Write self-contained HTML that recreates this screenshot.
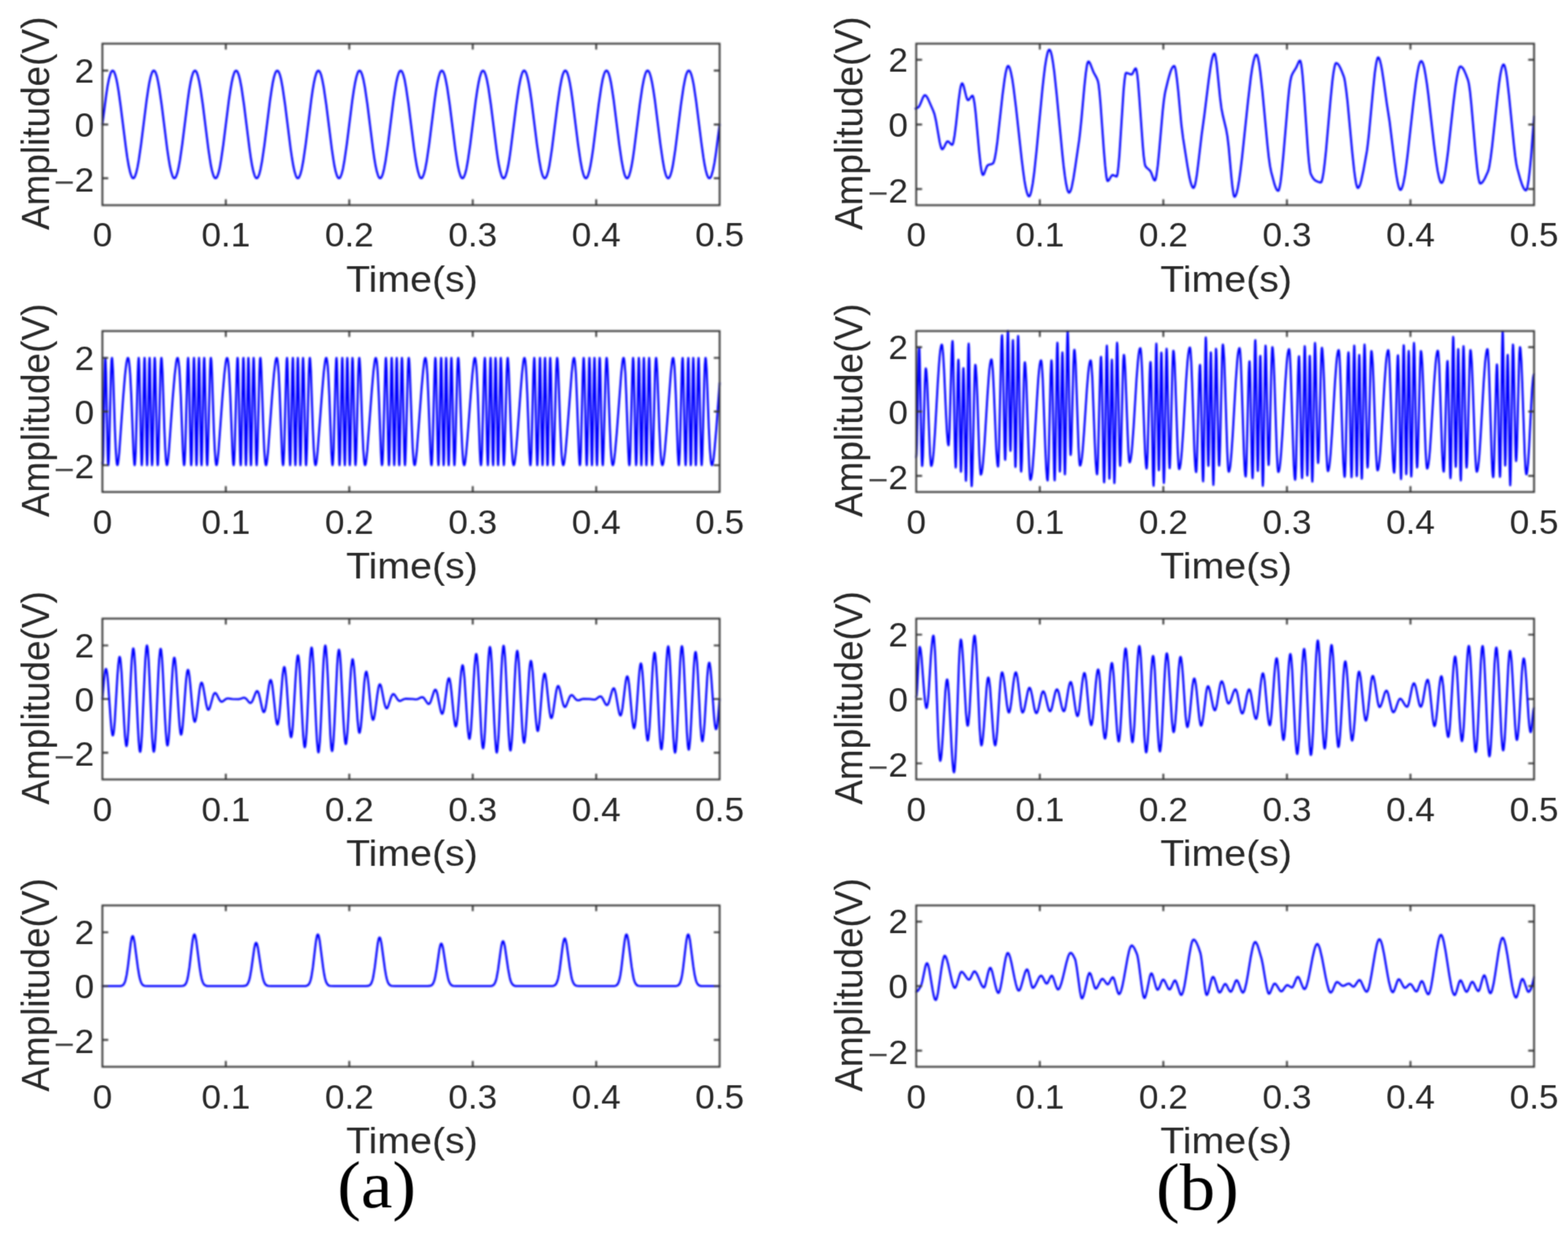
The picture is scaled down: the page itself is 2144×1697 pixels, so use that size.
<!DOCTYPE html>
<html><head><meta charset="utf-8"><title>Signals</title><style>html,body{margin:0;padding:0;background:#fff;overflow:hidden}svg{display:block}</style></head><body>
<svg xmlns="http://www.w3.org/2000/svg" width="2144" height="1697" viewBox="0 0 2144 1697">
<rect width="2144" height="1697" fill="#ffffff"/>
<defs><filter id="bl" x="-1%" y="-1%" width="102%" height="102%" color-interpolation-filters="sRGB"><feGaussianBlur stdDeviation="0.80"/></filter><filter id="bt" x="-5%" y="-5%" width="110%" height="110%" color-interpolation-filters="sRGB"><feConvolveMatrix order="3" kernelMatrix="0.0277 0.1110 0.0277 0.1110 0.4452 0.1110 0.0277 0.1110 0.0277" edgeMode="none"/></filter></defs>
<g filter="url(#bl)">
<path d="M140.0 170.2L145.1 130.7L147.0 118.1L149.0 108.0L151.0 100.9L151.8 98.8L152.7 97.4L153.5 96.7L154.3 96.6L155.2 97.1L156.0 98.3L157.4 101.7L159.1 108.0L160.5 114.9L162.2 125.0L165.0 145.2L172.1 201.5L174.0 215.3L176.0 226.9L178.0 235.8L179.7 240.9L180.8 242.9L181.6 243.6L182.5 243.7L183.3 243.2L184.7 240.9L186.4 235.8L188.1 228.3L189.8 218.8L192.9 197.3L200.5 136.7L202.5 123.2L204.1 113.4L206.1 104.5L207.8 99.4L208.6 97.8L209.5 96.8L210.3 96.5L211.2 96.8L212.0 97.8L212.9 99.4L214.6 104.5L216.2 112.0L217.9 121.5L221.0 143.0L228.6 203.6L230.6 217.1L232.3 226.9L234.0 234.7L235.7 240.2L236.5 242.0L237.3 243.2L238.2 243.7L239.0 243.6L239.9 242.9L240.7 241.5L242.4 236.8L244.1 229.7L246.1 218.8L249.2 197.3L256.8 136.7L258.7 123.2L260.4 113.4L262.1 105.6L263.8 100.1L264.6 98.3L265.5 97.1L266.3 96.6L267.2 96.7L268.0 97.4L268.9 98.8L270.5 103.5L272.2 110.6L274.2 121.5L277.3 143.0L284.9 203.6L286.9 217.1L288.5 226.9L290.2 234.7L291.9 240.2L292.8 242.0L293.6 243.2L294.5 243.7L295.3 243.6L296.1 242.9L297.0 241.5L298.7 236.8L300.4 229.7L302.3 218.8L305.4 197.3L313.0 136.7L315.0 123.2L316.7 113.4L318.4 105.6L320.1 100.1L320.9 98.3L321.7 97.1L322.6 96.6L323.1 96.6L324.0 97.1L324.8 98.3L326.5 102.6L328.2 109.2L330.2 119.7L333.6 143.0L341.2 203.6L343.1 217.1L344.8 226.9L346.5 234.7L348.2 240.2L349.0 242.0L349.9 243.2L350.7 243.7L351.3 243.7L352.1 243.2L353.0 242.0L354.7 237.7L356.3 231.1L358.3 220.6L361.7 197.3L369.3 136.7L371.3 123.2L372.9 113.4L374.6 105.6L376.3 100.1L377.2 98.3L378.0 97.1L378.9 96.6L379.4 96.6L380.3 97.1L381.1 98.3L382.8 102.6L384.5 109.2L386.4 119.7L389.8 143.0L397.4 203.6L399.4 217.1L401.1 226.9L402.8 234.7L404.5 240.2L405.3 242.0L406.1 243.2L407.0 243.7L407.5 243.7L408.4 243.2L409.2 242.0L410.9 237.7L412.6 231.1L414.6 220.6L418.0 197.3L425.6 136.7L427.5 123.2L429.2 113.4L430.9 105.6L432.6 100.1L433.4 98.3L434.3 97.1L435.1 96.6L435.7 96.6L436.5 97.1L437.4 98.3L439.1 102.6L440.7 109.2L442.7 119.7L446.1 143.0L453.7 203.6L455.7 217.1L457.3 226.9L459.0 234.7L460.7 240.2L461.6 242.0L462.4 243.2L463.3 243.7L463.8 243.7L464.7 243.2L465.5 242.0L467.2 237.7L468.9 231.1L470.8 220.6L474.2 197.3L481.8 136.7L483.8 123.2L485.5 113.4L487.2 105.6L488.9 100.1L489.7 98.3L490.5 97.1L491.4 96.6L491.9 96.6L492.8 97.1L493.6 98.3L495.3 102.6L497.0 109.2L499.0 119.7L502.4 143.0L510.0 203.6L511.9 217.1L513.6 226.9L515.3 234.7L517.0 240.2L517.8 242.0L518.7 243.2L519.5 243.7L520.1 243.7L520.9 243.2L521.8 242.0L523.5 237.7L525.1 231.1L527.1 220.6L530.5 197.3L538.1 136.7L540.1 123.2L541.7 113.4L543.4 105.6L545.1 100.1L546.0 98.3L546.8 97.1L547.7 96.6L548.2 96.6L549.1 97.1L549.9 98.3L551.6 102.6L553.3 109.2L555.2 119.7L558.6 143.0L566.2 203.6L568.2 217.1L569.9 226.9L571.6 234.7L573.3 240.2L574.1 242.0L574.9 243.2L575.8 243.7L576.3 243.7L577.2 243.2L578.0 242.0L579.7 237.7L581.4 231.1L583.4 220.6L586.8 197.3L594.4 136.7L596.3 123.2L598.0 113.4L599.7 105.6L601.4 100.1L602.2 98.3L603.1 97.1L603.9 96.6L604.5 96.6L605.3 97.1L606.2 98.3L607.9 102.6L609.5 109.2L611.5 119.7L614.9 143.0L622.5 203.6L624.5 217.1L626.1 226.9L627.8 234.7L629.5 240.2L630.4 242.0L631.2 243.2L632.1 243.7L632.6 243.7L633.5 243.2L634.3 242.0L636.0 237.7L637.7 231.1L639.6 220.6L643.0 197.3L650.6 136.7L652.6 123.2L654.3 113.4L656.0 105.6L657.7 100.1L658.5 98.3L659.3 97.1L660.2 96.6L660.7 96.6L661.6 97.1L662.4 98.3L664.1 102.6L665.8 109.2L667.8 119.7L671.2 143.0L678.8 203.6L680.7 217.1L682.4 226.9L684.1 234.7L685.5 239.4L686.3 241.5L687.2 242.9L688.0 243.6L688.6 243.8L689.2 243.6L690.0 242.9L690.9 241.5L691.7 239.4L693.1 234.7L694.8 226.9L696.5 217.1L698.4 203.6L706.0 143.0L709.4 119.7L711.4 109.2L713.1 102.6L714.2 99.4L715.0 97.8L715.9 96.8L716.7 96.5L717.3 96.7L718.1 97.4L719.0 98.8L719.8 100.9L721.2 105.6L722.9 113.4L724.6 123.2L726.6 136.7L734.2 197.3L737.6 220.6L739.5 231.1L741.2 237.7L742.3 240.9L743.2 242.5L744.0 243.5L744.9 243.8L745.4 243.6L746.3 242.9L747.1 241.5L748.0 239.4L749.4 234.7L751.1 226.9L752.7 217.1L754.7 203.6L762.3 143.0L765.7 119.7L767.7 109.2L769.3 102.6L770.5 99.4L771.3 97.8L772.2 96.8L773.0 96.5L773.6 96.7L774.4 97.4L775.3 98.8L776.1 100.9L777.5 105.6L779.2 113.4L780.9 123.2L782.8 136.7L790.4 197.3L793.8 220.6L795.8 231.1L797.5 237.7L798.6 240.9L799.4 242.5L800.3 243.5L801.1 243.8L801.7 243.6L802.5 242.9L803.4 241.5L804.2 239.4L805.6 234.7L807.3 226.9L809.0 217.1L811.0 203.6L818.6 143.0L822.0 119.7L823.9 109.2L825.6 102.6L826.7 99.4L827.6 97.8L828.4 96.8L829.3 96.5L829.8 96.7L830.7 97.4L831.5 98.8L832.4 100.9L833.8 105.6L835.5 113.4L837.1 123.2L839.1 136.7L846.7 197.3L850.1 220.6L852.1 231.1L853.7 237.7L854.9 240.9L855.7 242.5L856.6 243.5L857.4 243.8L858.0 243.6L858.8 242.9L859.7 241.5L860.5 239.4L861.9 234.7L863.6 226.9L865.3 217.1L867.2 203.6L874.8 143.0L878.2 119.7L880.2 109.2L881.9 102.6L883.0 99.4L883.8 97.8L884.7 96.8L885.5 96.5L886.1 96.7L886.9 97.4L887.8 98.8L888.6 100.9L890.0 105.6L891.7 113.4L893.4 123.2L895.4 136.7L903.0 197.3L906.4 220.6L908.3 231.1L910.0 237.7L911.1 240.9L912.0 242.5L912.8 243.5L913.7 243.8L914.2 243.6L915.1 242.9L915.9 241.5L916.8 239.4L918.2 234.7L919.9 226.9L921.5 217.1L923.5 203.6L931.1 143.0L934.5 119.7L936.5 109.2L938.1 102.6L939.3 99.4L940.1 97.8L941.0 96.8L941.8 96.5L942.6 96.8L943.5 97.8L944.3 99.4L945.2 101.7L946.9 108.0L948.6 116.5L951.9 138.8L959.0 195.1L961.8 215.3L963.5 225.4L964.9 232.3L966.6 238.6L968.0 242.0L968.8 243.2L969.7 243.7L970.5 243.6L971.3 242.9L972.2 241.5L973.0 239.4L975.0 232.3L977.0 222.2L978.9 209.6L984.0 170.2" fill="none" stroke="#0000ff" stroke-width="2.80" stroke-linejoin="round" stroke-linecap="round"/>
<path d="M1251.8 148.5L1253.1 148.2L1254.3 147.5L1256.1 146.3L1256.8 145.4L1258.3 142.4L1261.8 133.8L1263.3 131.1L1264.1 130.4L1264.6 130.2L1265.3 130.3L1266.3 131.0L1267.8 133.1L1269.3 136.0L1276.1 151.5L1277.8 156.3L1279.8 165.1L1284.8 194.0L1286.1 199.5L1287.3 203.0L1287.8 203.8L1288.3 204.1L1288.8 204.0L1289.6 203.4L1290.8 201.4L1293.8 195.2L1294.8 193.8L1295.6 193.3L1296.3 193.4L1297.1 193.8L1300.6 197.4L1301.3 197.9L1302.1 198.0L1302.8 196.9L1303.6 194.6L1305.3 184.9L1307.1 171.0L1310.8 137.1L1312.8 122.6L1313.8 117.6L1314.6 115.2L1315.3 114.1L1315.6 114.0L1316.1 114.3L1316.8 115.6L1317.6 117.7L1321.3 132.5L1322.1 134.8L1322.8 136.4L1323.6 137.0L1324.6 136.6L1325.6 135.5L1328.1 132.0L1328.8 131.3L1329.6 130.9L1330.1 131.1L1330.3 131.5L1331.3 134.7L1332.6 142.1L1334.1 154.9L1338.8 206.8L1340.8 225.5L1341.8 232.4L1342.6 236.2L1343.6 239.0L1343.8 239.2L1344.3 239.2L1345.1 238.5L1345.8 237.1L1348.8 229.0L1350.1 226.4L1350.6 225.9L1351.6 225.4L1356.1 224.3L1357.8 223.5L1358.8 221.6L1360.1 217.2L1361.8 207.8L1363.8 193.2L1370.8 129.9L1373.6 108.5L1375.1 99.5L1376.6 93.3L1377.3 91.4L1377.8 90.6L1378.3 90.2L1379.1 90.4L1379.8 91.3L1380.6 92.9L1382.3 98.9L1384.1 107.9L1385.8 119.4L1389.3 147.7L1397.1 218.6L1399.1 234.7L1400.8 246.9L1402.6 256.9L1404.1 263.2L1405.6 267.2L1406.3 268.2L1407.1 268.5L1407.8 268.0L1408.6 266.7L1409.3 264.6L1410.3 260.6L1412.1 251.0L1414.1 236.3L1417.3 206.2L1425.3 122.1L1427.1 105.9L1428.8 91.8L1430.6 80.5L1432.1 73.4L1432.8 70.8L1433.6 69.1L1434.3 68.1L1434.8 67.9L1435.6 68.4L1436.3 69.7L1437.1 71.8L1438.1 75.8L1439.8 85.6L1441.6 98.6L1444.8 128.6L1452.6 210.5L1454.3 226.7L1456.1 240.8L1457.6 250.6L1459.1 257.9L1459.8 260.5L1460.6 262.3L1461.3 263.3L1461.8 263.5L1462.6 263.1L1463.6 261.5L1464.6 258.8L1465.6 255.0L1467.8 243.7L1470.3 227.7L1475.6 191.4L1476.8 181.4L1478.6 164.0L1482.6 119.4L1484.6 100.5L1486.3 88.9L1487.3 85.2L1488.1 84.1L1488.6 84.2L1489.3 84.7L1490.8 87.2L1495.3 98.9L1499.1 105.7L1500.3 108.4L1501.3 111.3L1502.1 115.2L1503.3 125.2L1504.8 142.0L1509.3 204.9L1511.1 226.4L1512.8 241.6L1513.8 246.3L1514.3 247.3L1514.6 247.5L1515.3 247.2L1516.3 246.2L1519.3 241.1L1520.6 239.6L1521.3 239.3L1522.1 239.4L1525.6 241.1L1526.8 241.4L1527.3 240.7L1528.1 237.6L1529.3 227.3L1530.6 212.2L1536.3 123.8L1537.6 110.0L1538.8 101.6L1539.3 100.1L1539.8 99.7L1541.6 100.0L1545.8 101.6L1547.1 101.8L1547.6 101.7L1548.1 101.3L1548.8 100.2L1551.6 94.7L1552.3 93.8L1552.8 93.6L1553.1 93.7L1553.6 94.5L1554.3 97.6L1555.1 102.6L1556.1 111.7L1557.8 132.9L1562.6 199.4L1563.8 213.1L1565.1 222.8L1565.8 226.2L1566.3 227.3L1568.1 229.5L1571.3 232.2L1572.8 233.8L1574.1 236.2L1576.6 243.1L1577.6 245.4L1578.6 246.7L1579.1 246.8L1579.6 246.3L1580.3 244.4L1581.3 239.6L1583.1 226.4L1584.8 208.9L1589.8 152.0L1591.3 138.1L1592.6 129.2L1593.3 125.4L1596.8 110.8L1598.6 104.2L1600.3 98.5L1601.8 94.6L1603.3 91.8L1604.6 90.5L1605.3 90.2L1605.8 90.4L1606.6 91.8L1607.6 96.0L1609.3 108.3L1611.1 124.9L1615.3 170.1L1617.6 188.4L1623.6 226.6L1626.3 241.9L1627.8 248.5L1629.3 253.4L1630.6 256.0L1631.3 256.8L1631.8 257.0L1632.3 256.8L1632.8 256.1L1634.1 252.5L1635.3 246.5L1636.6 238.5L1638.3 224.9L1643.1 184.1L1646.8 157.2L1652.6 110.4L1655.1 92.5L1656.6 83.9L1658.1 77.6L1658.8 75.4L1659.6 74.0L1660.3 73.3L1660.8 73.5L1661.3 74.4L1662.1 77.3L1663.6 87.2L1668.3 133.9L1670.1 147.9L1672.1 158.2L1676.6 176.9L1678.3 186.5L1680.1 201.7L1683.6 240.7L1685.1 255.3L1686.6 265.5L1687.3 268.3L1687.8 269.0L1688.1 269.1L1688.8 268.7L1689.6 267.5L1691.1 263.4L1692.6 256.8L1694.3 246.7L1696.3 232.3L1698.3 215.6L1706.6 137.2L1710.3 105.8L1712.3 92.4L1714.1 83.4L1715.8 77.4L1716.8 75.4L1717.6 74.8L1718.3 74.9L1718.8 75.5L1719.6 77.3L1720.3 80.1L1721.8 88.1L1723.3 99.0L1726.1 124.4L1733.1 198.9L1734.8 214.6L1736.6 227.2L1738.1 234.8L1742.8 252.3L1744.1 255.9L1745.3 258.7L1746.3 260.2L1747.3 260.9L1748.1 260.8L1748.6 260.1L1749.8 255.7L1751.1 248.2L1752.3 238.2L1754.8 212.5L1761.1 138.7L1762.8 122.0L1764.3 111.1L1765.6 105.1L1766.8 101.8L1768.3 98.9L1772.3 92.6L1775.8 84.5L1776.6 83.3L1777.3 82.8L1777.8 83.0L1778.1 83.4L1779.1 87.3L1780.1 94.3L1781.1 103.9L1783.1 128.8L1788.3 204.7L1789.8 221.7L1791.1 232.1L1791.8 236.1L1792.3 237.8L1794.1 241.5L1795.8 244.2L1797.1 245.7L1798.3 246.7L1801.3 248.3L1803.8 249.2L1806.1 249.5L1806.6 249.1L1807.1 248.2L1808.3 243.9L1809.8 235.2L1811.3 223.3L1813.1 206.3L1819.1 138.3L1821.8 111.0L1823.3 99.4L1824.6 92.2L1825.8 87.7L1826.3 86.7L1826.8 86.2L1828.1 86.5L1829.6 87.7L1831.1 89.8L1832.8 93.1L1834.8 97.7L1837.3 104.2L1838.1 106.8L1839.1 111.9L1840.8 124.0L1842.6 139.6L1849.1 209.4L1851.6 232.9L1853.1 244.1L1854.3 251.1L1855.6 255.5L1856.1 256.5L1856.6 257.0L1857.1 257.0L1857.6 256.6L1858.8 254.7L1860.1 251.4L1861.3 246.9L1864.1 233.9L1869.1 206.2L1870.3 196.9L1871.8 183.3L1877.6 121.3L1879.8 100.0L1881.1 90.7L1882.1 84.8L1883.3 80.0L1883.8 79.0L1884.3 78.5L1884.8 78.6L1885.6 79.4L1886.8 82.4L1888.3 88.5L1889.8 96.6L1891.8 109.7L1896.3 142.0L1900.1 166.5L1906.8 221.3L1909.3 239.3L1910.8 248.1L1912.3 254.7L1913.6 258.2L1914.3 259.4L1914.8 259.7L1915.6 259.5L1916.3 258.6L1917.8 254.8L1919.3 248.6L1921.1 238.9L1922.8 226.8L1924.8 210.9L1932.6 140.6L1936.1 112.5L1938.1 99.7L1939.8 91.1L1940.8 87.5L1941.6 85.6L1942.3 84.2L1943.1 83.6L1943.8 83.6L1944.6 84.4L1945.3 85.8L1946.1 87.9L1947.6 93.7L1949.3 103.1L1951.1 114.7L1953.1 130.2L1960.8 198.0L1964.1 223.1L1965.8 234.0L1967.6 242.5L1969.3 248.1L1970.1 249.4L1970.8 250.1L1971.6 250.1L1972.1 249.6L1972.8 248.3L1973.6 246.3L1975.1 240.4L1976.6 232.2L1978.3 220.3L1980.1 206.5L1987.3 141.1L1990.3 117.2L1992.1 106.0L1993.6 98.5L1995.1 93.4L1995.8 91.8L1996.6 91.0L1997.1 90.9L1997.8 91.1L1999.1 91.9L2000.6 93.8L2002.1 96.5L2004.3 101.5L2007.1 108.9L2007.8 111.5L2008.6 115.2L2010.1 125.8L2011.8 142.3L2017.3 205.6L2019.6 228.5L2020.8 238.6L2021.8 244.7L2022.8 248.9L2023.3 250.2L2023.8 250.8L2024.6 250.8L2025.3 250.6L2026.8 249.4L2028.3 247.4L2030.1 244.4L2034.6 234.5L2035.6 231.1L2036.6 226.4L2038.3 215.5L2040.3 199.9L2047.1 136.6L2049.8 113.5L2051.3 103.3L2052.6 96.5L2053.8 91.5L2055.1 88.7L2055.8 88.2L2056.3 88.4L2056.8 89.1L2057.6 90.9L2059.1 97.4L2060.6 106.9L2063.3 130.4L2070.1 198.7L2071.8 213.5L2073.3 223.7L2074.6 230.0L2078.8 245.3L2081.3 252.9L2083.6 257.8L2084.6 259.2L2085.6 260.1L2086.6 260.3L2087.1 259.8L2087.8 258.1L2088.6 255.3L2090.1 246.6L2091.8 231.9L2093.6 213.1L2097.6 159.4" fill="none" stroke="#0000ff" stroke-width="2.80" stroke-linejoin="round" stroke-linecap="round"/>
<path d="M140.0 632.3L140.3 636.1L140.5 635.3L141.1 622.6L143.1 511.0L143.6 493.7L144.0 489.4L144.4 493.8L145.0 510.4L147.1 617.1L147.6 631.7L147.8 634.7L148.1 636.1L148.7 630.3L149.2 615.9L151.7 510.5L152.4 493.9L152.8 490.5L153.1 489.4L153.4 490.4L153.7 493.5L154.5 507.2L157.1 586.7L158.3 614.7L159.4 631.1L159.9 634.7L160.3 635.8L160.6 636.1L161.1 635.1L161.7 631.8L163.0 619.6L168.3 545.0L170.9 513.4L172.1 502.5L173.1 495.0L174.1 490.8L174.5 489.7L174.9 489.4L175.3 489.7L175.8 490.8L176.5 494.8L177.3 502.8L178.1 513.2L179.6 542.9L182.5 617.8L183.4 631.6L183.8 635.2L184.1 636.1L184.5 634.7L184.8 631.6L185.6 617.2L188.4 509.7L189.1 494.1L189.6 489.4L189.9 490.8L190.1 493.6L190.6 506.9L192.9 613.3L193.4 630.3L193.7 635.2L193.9 636.1L194.3 631.6L194.8 619.2L196.8 509.8L197.2 495.1L197.6 489.4L197.8 490.3L198.0 493.6L198.4 507.4L200.2 613.5L200.7 629.7L201.1 636.1L201.4 633.7L201.8 621.2L203.6 513.2L204.0 496.3L204.5 489.5L204.8 491.6L205.2 503.7L207.1 615.5L207.5 630.7L207.9 636.1L208.4 631.2L208.9 612.1L210.8 505.4L211.2 493.1L211.4 490.1L211.6 489.4L212.1 494.5L212.6 511.6L214.7 617.9L215.2 632.1L215.6 636.1L215.9 635.6L216.2 632.0L216.8 615.4L219.4 507.4L220.1 493.9L220.4 490.5L220.7 489.4L221.0 490.4L221.4 494.7L222.2 509.3L224.7 585.4L225.9 613.5L227.0 630.4L227.7 634.8L228.0 635.8L228.3 636.1L228.8 635.1L229.5 631.8L230.8 618.8L236.2 543.8L238.9 512.4L240.9 495.6L241.8 491.0L242.2 489.9L242.7 489.4L243.1 489.6L243.5 490.7L244.2 494.6L245.1 502.7L245.8 513.2L247.2 541.0L250.1 616.9L251.0 631.2L251.4 635.0L251.7 636.1L251.9 635.9L252.1 634.9L252.5 631.8L253.2 617.5L254.0 590.1L256.1 509.5L256.7 493.9L257.2 489.4L257.5 491.0L257.7 493.9L258.3 507.5L260.5 614.3L261.0 630.8L261.3 635.5L261.5 636.1L262.0 631.0L262.4 618.0L264.3 513.0L264.8 494.3L265.2 489.4L265.5 492.2L266.0 504.5L267.9 615.3L268.3 630.7L268.7 636.1L269.0 633.0L269.4 619.6L271.2 511.3L271.7 495.2L272.1 489.4L272.5 494.6L272.9 510.0L274.7 617.2L275.1 631.5L275.6 636.1L276.0 630.4L276.4 615.4L278.3 508.3L278.7 494.7L279.2 489.4L279.4 490.1L279.6 492.9L280.1 508.4L282.3 618.7L282.8 632.4L283.3 636.1L283.5 635.5L283.8 631.7L284.4 615.0L287.1 507.4L287.7 494.0L288.0 490.6L288.3 489.4L288.6 490.3L289.1 494.5L289.8 508.7L292.4 587.0L293.6 614.3L294.8 630.6L295.4 634.9L295.7 635.8L296.0 636.1L296.6 635.2L297.2 632.0L298.7 618.1L304.3 541.2L306.8 511.4L307.9 501.6L308.8 494.8L309.6 490.9L310.1 489.8L310.5 489.4L310.9 489.8L311.2 490.6L312.0 494.5L312.7 501.4L313.4 511.6L314.9 541.7L317.9 618.3L318.7 632.1L319.1 635.5L319.5 636.1L319.9 634.2L320.2 630.6L320.9 615.0L323.7 509.3L324.3 493.8L324.6 490.1L324.8 489.4L325.2 491.1L325.4 494.1L325.9 508.1L328.1 615.3L328.6 631.4L329.1 636.1L329.3 635.4L329.5 632.6L329.9 620.9L331.9 511.5L332.4 493.6L332.6 490.3L332.9 489.4L333.3 495.3L333.7 510.6L335.6 621.6L336.0 633.8L336.3 636.1L336.8 629.5L337.2 612.9L339.0 504.8L339.4 492.0L339.7 489.4L340.1 495.6L340.6 511.8L342.3 618.8L342.8 632.3L343.1 636.1L343.3 635.3L343.5 632.0L343.9 618.5L345.8 511.5L346.4 494.0L346.8 489.4L347.2 493.5L347.7 509.5L349.9 619.4L350.5 632.7L350.9 636.1L351.1 635.4L351.4 631.4L352.1 614.6L354.6 510.5L355.3 494.1L355.6 490.7L356.0 489.4L356.3 490.2L356.7 494.3L357.4 508.2L360.1 585.6L361.3 615.0L362.5 630.8L363.1 634.9L363.4 635.9L363.8 636.1L364.1 635.7L364.4 634.8L365.0 631.4L366.5 617.5L372.2 540.1L374.7 510.3L376.6 494.6L377.5 490.7L377.9 489.7L378.2 489.4L378.6 489.7L379.0 490.5L379.7 494.3L380.4 501.4L381.2 511.8L382.5 539.9L385.5 617.6L386.3 631.8L386.8 635.4L387.1 636.1L387.5 634.3L387.8 630.8L388.6 615.2L391.3 509.1L391.9 493.6L392.3 490.0L392.5 489.4L393.0 494.4L393.5 508.7L395.7 616.3L396.3 631.9L396.7 636.1L397.1 632.0L397.5 619.8L399.5 510.0L400.0 495.2L400.4 489.4L400.6 490.3L400.8 493.6L401.2 507.5L403.0 613.9L403.4 630.0L403.9 636.1L404.2 633.5L404.6 620.8L406.4 512.7L406.8 496.0L407.2 489.4L407.5 491.7L408.0 504.1L409.8 610.6L410.3 630.8L410.7 636.1L411.1 631.2L411.7 612.2L413.6 505.8L414.0 493.4L414.4 489.4L414.8 494.0L415.4 510.6L417.5 616.4L418.0 631.2L418.2 634.4L418.5 636.1L418.7 635.3L419.0 631.2L419.7 614.2L422.2 510.6L423.0 494.2L423.3 490.7L423.6 489.4L423.9 490.1L424.3 494.0L425.1 507.6L427.8 587.0L429.0 613.7L430.2 631.0L430.9 634.9L431.2 635.9L431.5 636.1L431.8 635.8L432.1 634.9L432.8 631.6L434.3 616.9L440.3 537.6L442.7 509.2L444.5 494.4L445.2 490.9L445.6 489.8L445.9 489.4L446.4 489.6L446.7 490.4L447.4 494.2L448.2 501.4L448.9 512.0L450.3 540.7L453.2 619.0L454.0 631.5L454.4 635.2L454.7 636.1L455.1 634.5L455.4 631.0L456.2 615.5L458.9 508.8L459.6 493.4L459.9 489.9L460.1 489.4L460.6 494.7L461.1 509.3L463.3 613.0L463.8 630.2L464.1 635.3L464.3 636.1L464.7 631.4L465.2 618.7L467.1 513.3L467.6 494.4L468.0 489.4L468.3 492.2L468.7 504.6L470.6 615.6L471.1 630.9L471.5 636.1L471.9 630.3L472.3 614.3L474.1 506.0L474.5 492.6L474.9 489.4L475.3 494.8L475.7 510.4L477.5 617.3L477.9 631.6L478.1 635.1L478.3 636.1L478.8 630.4L479.2 615.5L481.1 508.8L481.5 495.0L481.9 489.5L482.1 490.0L482.5 494.6L483.0 511.7L485.1 617.1L485.6 631.5L485.8 634.6L486.1 636.1L486.7 630.9L487.3 613.8L489.8 510.7L490.6 494.3L490.9 490.8L491.2 489.4L491.5 490.0L491.9 493.8L492.7 507.0L495.4 585.5L496.7 614.3L498.0 631.1L498.6 635.0L498.9 635.9L499.2 636.1L499.5 635.8L499.9 634.9L500.6 631.1L502.2 616.4L508.3 535.0L510.6 508.0L512.3 494.2L513.0 490.7L513.5 489.7L513.8 489.4L514.2 489.8L514.5 490.7L515.3 495.0L516.0 502.7L516.6 512.2L518.0 541.7L520.9 618.3L521.6 631.2L522.0 635.1L522.3 636.1L522.8 634.6L523.1 631.2L523.8 615.7L526.6 508.5L527.2 493.2L527.5 489.9L527.7 489.4L528.1 493.1L528.7 506.3L530.9 614.1L531.4 630.8L531.7 635.5L531.9 636.1L532.4 630.8L532.9 613.0L534.8 507.1L535.2 493.6L535.4 490.3L535.6 489.4L536.0 495.3L536.5 510.7L538.4 621.8L538.8 633.9L539.1 636.0L539.5 629.3L540.0 612.5L541.7 504.4L542.2 491.9L542.5 489.4L542.9 495.8L543.3 512.2L545.1 618.9L545.5 632.4L545.9 636.1L546.1 635.3L546.3 632.0L546.7 618.5L548.6 512.0L549.1 494.3L549.6 489.4L550.0 493.1L550.5 508.5L552.7 617.8L553.2 631.8L553.5 634.7L553.8 636.1L554.3 630.7L554.9 613.4L557.6 507.8L558.3 493.0L558.6 490.2L558.9 489.4L559.3 490.6L559.7 494.9L560.4 508.8L563.1 584.0L564.3 613.0L565.6 630.3L566.2 634.5L566.5 635.6L567.0 636.1L567.3 635.8L567.6 635.0L568.3 631.3L570.0 616.0L576.3 532.5L578.6 506.8L580.1 493.9L580.9 490.5L581.5 489.4L581.9 489.7L582.3 490.6L583.0 495.0L583.7 502.8L584.4 512.6L585.6 540.0L588.5 617.6L589.2 630.8L589.6 635.0L590.0 636.1L590.2 635.8L590.4 634.7L590.7 631.4L591.4 615.9L594.1 511.7L594.7 494.8L595.2 489.4L595.5 490.6L595.8 493.4L596.3 506.9L598.5 615.1L599.0 631.4L599.5 636.1L599.7 635.3L599.9 632.4L600.4 616.2L602.3 510.2L602.7 495.3L603.1 489.4L603.4 490.3L603.6 493.6L604.0 507.6L605.8 614.2L606.2 630.2L606.6 636.1L606.9 633.3L607.4 620.4L609.2 512.2L609.6 495.8L610.0 489.4L610.3 491.9L610.7 504.4L612.5 610.8L613.1 630.8L613.5 636.1L613.9 631.2L614.4 612.3L616.3 506.3L616.8 493.7L617.2 489.4L617.6 493.6L618.1 509.6L620.3 618.5L620.9 632.1L621.3 636.1L621.5 635.7L621.8 632.3L622.5 616.6L625.2 507.9L625.9 493.2L626.2 490.3L626.6 489.4L626.9 490.5L627.3 494.6L628.0 508.2L630.8 585.2L632.1 613.5L633.3 630.4L634.0 634.5L634.3 635.6L634.7 636.1L635.0 635.9L635.3 635.1L636.0 632.2L637.4 620.1L639.2 599.2L643.9 536.7L645.9 512.1L647.8 494.9L648.5 491.0L648.9 489.8L649.2 489.4L649.7 489.7L650.0 490.6L650.6 494.1L651.4 501.6L652.0 511.1L653.4 541.0L656.1 616.9L656.8 630.5L657.3 634.8L657.6 636.1L657.8 635.9L658.0 634.8L658.3 631.6L659.1 616.1L661.7 511.4L662.3 494.6L662.9 489.4L663.2 490.8L663.4 493.7L663.9 507.5L666.1 616.1L666.7 632.0L667.1 636.1L667.5 631.8L667.9 619.2L669.8 513.5L670.3 494.4L670.8 489.4L671.1 492.2L671.5 504.7L673.4 616.0L673.8 631.1L674.3 636.1L674.7 630.1L675.1 613.9L676.9 505.6L677.3 492.4L677.6 489.4L678.1 495.0L678.5 510.7L680.3 617.5L680.7 631.7L680.9 635.1L681.1 636.1L681.5 630.4L682.0 615.6L684.0 505.1L684.4 493.1L684.6 490.2L684.8 489.4L685.2 494.2L685.8 510.6L687.9 615.4L688.4 630.5L688.9 636.1L689.1 635.6L689.4 632.1L690.1 616.3L692.8 508.1L693.6 493.3L693.9 490.3L694.2 489.4L694.5 490.3L694.9 494.3L695.7 507.5L698.5 586.4L699.8 614.0L701.0 630.4L701.7 634.5L702.0 635.6L702.4 636.1L702.7 635.9L703.1 635.2L703.7 632.5L705.3 619.8L707.3 596.5L711.9 534.0L713.8 510.7L715.5 495.2L716.2 491.2L716.7 489.8L717.0 489.4L717.4 489.7L717.7 490.5L718.4 494.1L719.1 501.8L719.7 511.5L721.0 539.4L723.8 618.6L724.6 631.6L725.0 635.4L725.3 636.1L725.6 634.9L725.9 631.7L726.7 616.3L729.3 511.1L730.0 494.4L730.5 489.4L730.8 491.0L731.0 494.0L731.5 508.2L733.6 612.9L734.2 630.3L734.5 635.3L734.7 636.1L735.1 631.2L735.7 613.6L737.6 507.3L738.0 493.6L738.2 490.3L738.4 489.4L738.7 492.9L739.1 506.2L740.9 612.7L741.4 629.3L741.8 636.0L742.1 633.9L742.5 621.6L744.4 508.6L744.8 493.8L745.0 490.3L745.3 489.4L745.7 496.0L746.1 512.5L747.9 619.1L748.3 632.4L748.6 636.1L748.8 635.3L749.1 632.0L749.5 618.7L751.4 512.6L751.9 494.7L752.3 489.4L752.5 490.0L752.8 494.8L753.4 511.7L755.5 616.1L756.0 630.9L756.5 636.1L756.8 635.5L757.1 631.9L757.7 616.0L760.4 508.3L761.2 493.4L761.5 490.4L761.8 489.4L762.1 490.2L762.6 494.0L763.3 506.9L766.1 584.8L767.4 612.5L768.0 622.4L768.8 630.4L769.4 634.4L769.7 635.5L770.2 636.1L770.5 635.9L770.8 635.3L771.5 632.1L773.2 618.4L775.3 593.8L781.7 510.4L783.3 494.8L784.1 490.9L784.7 489.4L785.1 489.6L785.4 490.5L786.1 494.2L786.8 502.1L787.5 512.0L788.7 540.6L791.5 618.0L792.2 631.3L792.6 635.3L792.9 636.1L793.3 635.0L793.6 631.8L794.3 616.4L796.9 510.7L797.6 494.1L797.9 490.2L798.1 489.4L798.4 491.1L798.6 494.3L799.2 508.9L801.3 614.0L801.8 630.9L802.2 636.1L802.4 635.5L802.6 632.7L803.2 616.8L805.1 510.3L805.5 495.3L805.9 489.4L806.1 490.3L806.3 493.7L806.8 507.7L808.6 614.6L809.0 630.4L809.4 636.1L809.7 633.2L810.1 620.0L811.9 511.8L812.4 495.5L812.8 489.4L813.1 492.0L813.5 504.7L815.3 611.0L815.8 630.9L816.3 636.1L816.7 631.3L817.2 612.5L819.1 506.9L819.5 494.0L819.9 489.4L820.2 490.3L820.5 495.4L821.0 512.7L823.1 616.8L823.6 631.2L823.9 634.3L824.2 636.1L824.4 635.4L824.7 631.7L825.3 615.7L828.1 508.5L828.8 493.6L829.1 490.5L829.4 489.4L829.8 490.1L830.2 493.7L830.9 506.2L833.9 585.8L835.1 612.9L835.8 622.6L836.5 630.4L837.1 634.4L837.5 635.5L837.9 636.1L838.2 636.0L838.6 635.1L839.4 631.9L841.0 618.2L843.4 591.2L849.5 510.1L851.1 495.1L851.8 491.0L852.4 489.4L852.9 489.6L853.2 490.5L853.8 494.3L855.1 510.7L856.3 539.1L859.1 617.4L859.8 631.0L860.2 635.2L860.6 636.1L860.9 635.1L861.2 632.0L861.9 616.5L864.6 510.4L865.2 493.9L865.5 490.1L865.7 489.4L866.3 494.7L866.8 509.6L868.9 615.1L869.4 631.5L869.8 636.1L870.3 632.1L870.7 619.8L872.6 513.6L873.1 494.5L873.5 489.4L874.0 494.5L874.5 514.4L876.3 620.9L876.7 633.5L877.0 636.1L877.4 629.8L877.9 613.4L879.7 505.2L880.1 492.2L880.4 489.4L880.8 495.2L881.2 511.1L883.0 617.6L883.5 631.7L883.7 635.2L883.9 636.1L884.3 630.4L884.7 615.8L886.7 505.7L887.2 493.4L887.6 489.4L888.0 493.7L888.5 509.5L890.7 617.4L891.3 631.5L891.5 634.5L891.8 636.1L892.0 635.3L892.3 631.5L893.0 615.4L895.7 508.7L896.4 493.8L896.8 490.6L897.1 489.4L897.4 490.0L897.8 493.4L898.7 507.7L901.5 584.1L902.9 613.2L903.5 622.7L904.2 630.4L904.9 634.3L905.2 635.4L905.6 636.1L905.9 636.0L906.4 635.2L907.2 631.6L909.0 617.0L911.4 588.7L917.3 509.6L918.8 495.4L919.4 491.5L920.1 489.6L920.3 489.4L920.5 489.5L920.8 490.1L921.4 493.5L922.2 501.2L922.8 511.3L924.1 540.4L926.7 616.8L927.5 630.8L927.9 635.1L928.2 636.1L928.5 635.2L928.8 632.1L929.6 616.6L932.2 510.0L932.7 495.6L933.3 489.5L933.4 489.4L933.5 489.7L933.6 490.4L933.8 493.1L934.3 506.6L936.5 616.2L937.1 632.1L937.5 636.1L937.9 631.5L938.3 618.5L940.2 512.0L940.6 496.3L941.1 489.5L941.2 489.4L941.3 490.0L941.5 493.0L941.9 506.3L943.7 613.1L944.1 629.6L944.5 636.1L944.9 633.7L945.3 621.2L947.1 513.2L947.5 496.3L947.9 489.5L948.2 491.5L948.7 503.5L950.6 614.5L951.0 630.0L951.4 636.1L951.6 635.3L951.8 632.1L952.2 618.8L954.1 513.2L954.7 495.1L955.1 489.5L955.2 489.4L955.3 489.9L955.5 492.3L955.9 502.8L958.2 610.2L958.8 629.7L959.3 636.0L959.4 636.1L959.5 635.9L959.8 632.9L960.4 621.6L963.0 518.4L963.7 499.1L964.5 490.1L964.7 489.4L964.9 489.6L965.3 492.1L966.2 504.8L969.2 584.9L970.6 613.5L971.9 629.4L972.5 633.7L973.1 635.8L973.6 636.1L974.0 635.6L974.9 632.0L975.9 625.5L977.0 614.8L979.6 584.8L984.0 523.7" fill="none" stroke="#0000ff" stroke-width="2.80" stroke-linejoin="round" stroke-linecap="round"/>
<path d="M1252.8 625.3L1253.2 621.2L1253.7 606.7L1255.8 498.9L1256.2 481.8L1256.7 474.8L1257.0 475.2L1257.2 479.1L1257.7 494.2L1259.8 608.8L1260.3 627.9L1260.7 636.1L1260.8 637.0L1261.0 637.1L1261.3 634.7L1262.0 622.9L1264.6 523.8L1265.3 509.0L1265.6 504.8L1265.9 503.8L1266.3 504.8L1266.8 508.6L1267.8 523.9L1270.8 600.6L1271.7 621.9L1272.6 633.5L1273.0 636.3L1273.4 637.1L1273.8 636.8L1274.2 635.8L1275.0 632.1L1275.8 625.6L1276.7 616.7L1278.5 590.5L1282.2 524.8L1283.9 498.8L1284.8 487.7L1285.7 479.1L1286.6 473.9L1287.4 471.4L1287.8 471.2L1288.0 471.4L1288.5 473.3L1289.6 484.5L1290.9 506.7L1293.6 567.5L1294.8 590.4L1296.0 605.5L1296.7 608.6L1297.0 608.9L1297.2 608.2L1297.9 599.8L1298.5 583.4L1301.2 484.8L1301.8 471.3L1302.2 467.4L1302.4 466.4L1302.6 467.2L1302.9 471.4L1303.4 487.0L1305.6 610.6L1306.2 631.6L1306.7 639.2L1306.8 639.3L1306.9 639.0L1307.1 636.5L1307.6 622.4L1309.5 514.1L1310.0 497.3L1310.3 492.7L1310.5 491.9L1310.9 496.5L1311.3 511.4L1313.0 616.7L1313.7 642.6L1313.9 644.9L1314.0 645.1L1314.1 644.5L1314.6 633.2L1316.5 524.6L1317.0 507.4L1317.2 504.1L1317.4 503.4L1317.8 510.5L1318.3 527.8L1320.1 641.6L1320.5 654.7L1320.7 657.2L1320.8 657.4L1320.9 657.3L1320.9 656.8L1321.4 647.0L1321.8 626.3L1323.6 493.6L1324.0 476.0L1324.5 469.9L1324.9 474.9L1325.4 492.9L1327.5 634.0L1328.0 655.6L1328.5 664.7L1328.6 664.8L1328.8 664.2L1329.0 661.2L1329.7 645.6L1332.3 525.3L1332.9 506.3L1333.3 500.6L1333.5 499.0L1333.8 499.1L1334.0 499.8L1334.4 503.0L1335.3 517.1L1336.3 541.3L1339.0 621.7L1340.0 639.8L1340.8 648.2L1341.1 649.0L1341.5 648.8L1341.9 647.9L1342.4 646.1L1343.3 640.4L1344.2 632.0L1346.2 606.0L1350.2 540.6L1351.9 516.4L1352.8 505.4L1353.8 497.8L1354.7 493.1L1355.1 492.0L1355.5 491.5L1355.8 491.6L1356.0 492.1L1356.5 494.8L1357.6 507.4L1358.8 530.7L1362.3 615.3L1363.6 633.1L1364.2 636.9L1364.5 637.8L1364.7 638.0L1365.0 636.3L1365.4 630.9L1366.1 610.4L1368.9 480.4L1369.5 463.8L1369.9 459.4L1370.2 458.4L1370.6 464.5L1371.2 483.9L1373.5 609.2L1374.0 624.2L1374.2 628.1L1374.5 628.7L1374.9 622.1L1375.4 601.7L1377.3 471.9L1377.8 456.9L1378.1 452.3L1378.5 455.6L1378.9 469.8L1380.7 590.1L1381.1 608.5L1381.6 616.3L1381.6 616.5L1381.7 616.3L1381.9 613.9L1382.3 600.8L1384.2 487.6L1384.7 469.3L1384.9 465.8L1385.1 465.1L1385.5 473.2L1385.9 492.7L1387.8 620.7L1388.2 636.7L1388.5 638.5L1388.7 637.1L1389.1 625.9L1389.5 604.6L1391.3 482.1L1391.7 465.3L1392.1 459.3L1392.3 460.5L1392.6 465.7L1393.1 484.2L1395.1 611.1L1395.6 633.4L1396.0 643.5L1396.3 645.0L1396.6 642.9L1397.3 630.4L1400.0 518.1L1400.7 500.3L1401.1 496.2L1401.3 495.4L1401.8 497.4L1402.3 502.5L1403.3 521.4L1406.3 612.2L1407.3 637.4L1408.1 651.2L1408.5 654.8L1408.9 656.1L1409.3 655.8L1409.7 654.9L1410.5 651.6L1411.3 646.0L1412.1 637.7L1414.0 611.7L1418.0 544.2L1419.7 518.2L1420.7 506.9L1421.6 499.2L1422.5 494.4L1423.0 493.1L1423.4 492.8L1423.7 493.1L1424.0 494.3L1424.6 499.0L1425.8 518.5L1429.3 612.9L1430.5 639.3L1431.6 654.0L1432.2 656.7L1432.4 657.0L1432.6 656.3L1433.2 647.2L1433.9 628.5L1436.5 513.8L1437.2 498.2L1437.5 493.8L1437.8 492.8L1438.3 498.2L1438.9 516.5L1441.2 640.3L1441.7 653.6L1442.0 656.7L1442.1 656.9L1442.2 656.6L1442.6 647.8L1443.1 624.3L1444.9 493.3L1445.3 475.5L1445.8 468.6L1446.0 469.6L1446.2 473.9L1446.6 491.0L1448.3 612.7L1449.0 642.3L1449.2 644.9L1449.4 644.3L1449.9 631.2L1451.8 506.0L1452.2 488.2L1452.7 481.8L1453.1 487.6L1453.6 508.5L1455.4 631.6L1455.8 645.7L1456.0 648.4L1456.1 648.6L1456.2 648.5L1456.6 640.3L1457.1 616.3L1458.9 478.3L1459.4 459.8L1459.8 453.1L1460.0 454.1L1460.3 458.8L1460.8 475.4L1462.7 590.5L1463.2 611.0L1463.7 621.3L1463.9 622.1L1464.0 622.1L1464.4 619.5L1465.0 606.8L1467.7 499.1L1468.4 482.5L1468.7 479.3L1468.9 478.5L1469.1 478.3L1469.5 479.8L1469.9 483.6L1470.8 497.6L1474.7 611.0L1475.7 629.5L1476.2 634.6L1476.7 636.7L1477.1 636.5L1477.6 635.5L1478.5 631.6L1479.5 624.5L1480.5 614.7L1482.2 591.9L1486.2 531.5L1488.1 508.8L1489.0 501.5L1489.8 496.7L1490.6 493.6L1491.0 492.9L1491.4 492.8L1491.9 494.4L1492.4 499.1L1493.6 516.9L1497.0 606.0L1498.2 631.6L1499.3 645.2L1499.8 648.0L1500.0 648.6L1500.3 648.2L1500.9 640.1L1501.5 622.3L1504.3 507.3L1505.0 491.5L1505.3 488.3L1505.5 487.9L1505.6 488.3L1506.1 496.6L1506.7 518.5L1508.8 638.9L1509.3 654.5L1509.5 658.8L1509.8 659.6L1510.2 653.0L1510.7 631.6L1512.6 493.5L1513.1 477.5L1513.3 473.5L1513.5 472.6L1513.8 478.0L1514.3 495.8L1516.0 621.4L1516.7 652.0L1516.9 654.6L1517.1 654.0L1517.6 640.8L1519.5 515.9L1519.9 498.2L1520.3 491.9L1520.7 497.8L1521.2 519.1L1523.1 643.4L1523.5 657.6L1523.7 660.3L1523.8 660.5L1523.8 660.3L1523.9 659.9L1524.3 649.8L1524.8 628.8L1526.6 493.5L1527.0 475.2L1527.4 468.6L1527.9 472.5L1528.3 487.5L1530.5 611.6L1531.1 631.4L1531.4 636.1L1531.6 637.1L1531.9 636.0L1532.1 632.6L1532.7 619.6L1535.3 511.0L1535.9 493.1L1536.6 485.5L1536.8 485.3L1537.1 486.1L1537.6 489.7L1538.6 506.1L1541.9 593.8L1542.9 617.2L1543.8 629.3L1544.3 631.8L1544.5 632.3L1544.7 632.3L1545.1 631.7L1545.5 630.6L1546.4 625.9L1547.4 618.5L1548.3 607.7L1550.1 582.8L1554.0 518.5L1556.0 493.1L1557.0 484.2L1557.9 478.7L1558.4 477.0L1558.9 476.1L1559.3 476.1L1559.6 477.2L1560.1 480.9L1560.6 487.2L1561.6 506.1L1564.7 593.0L1565.8 619.8L1566.8 635.1L1567.3 639.2L1567.8 640.7L1568.1 639.4L1568.5 635.2L1569.2 618.3L1572.0 511.4L1572.6 498.5L1573.0 495.4L1573.1 495.0L1573.3 495.2L1573.8 503.0L1574.3 524.3L1576.4 643.6L1576.9 659.3L1577.2 663.6L1577.4 664.4L1577.8 657.7L1578.3 639.6L1580.2 499.7L1580.7 477.1L1581.1 469.9L1581.4 473.4L1581.8 488.4L1583.7 615.8L1584.1 635.2L1584.5 643.2L1584.7 642.5L1584.9 638.8L1585.4 619.3L1587.3 495.8L1587.8 482.9L1588.0 482.2L1588.0 482.4L1588.3 485.0L1589.0 515.4L1590.6 634.9L1591.0 653.7L1591.4 660.5L1591.8 654.8L1592.3 638.1L1594.2 504.9L1594.7 483.5L1595.1 476.9L1595.5 480.6L1596.0 494.9L1598.2 614.8L1598.7 632.5L1599.2 640.1L1599.3 640.2L1599.4 639.6L1599.8 635.8L1600.4 620.2L1603.0 505.7L1603.7 487.3L1604.2 480.0L1604.4 479.6L1604.7 480.0L1605.2 483.1L1606.1 496.5L1607.1 522.1L1610.4 617.8L1611.4 636.1L1611.9 640.3L1612.1 641.2L1612.4 641.5L1612.8 641.1L1613.3 639.7L1614.2 634.8L1615.1 626.9L1616.1 615.5L1617.9 589.1L1621.8 520.8L1623.7 494.4L1624.6 485.8L1625.4 480.1L1626.2 476.3L1626.6 475.4L1627.0 475.2L1627.4 476.2L1627.9 480.0L1628.9 495.3L1630.0 522.9L1633.2 617.5L1634.3 637.1L1634.9 643.1L1635.4 645.4L1635.6 645.5L1635.7 645.0L1636.1 641.8L1636.8 624.5L1639.8 512.5L1640.4 501.1L1640.8 499.0L1641.1 500.0L1641.5 509.9L1642.0 528.9L1644.1 638.3L1644.6 653.3L1644.9 657.4L1645.1 658.3L1645.5 651.7L1646.0 629.4L1648.0 483.8L1648.4 466.8L1648.6 462.6L1648.8 461.5L1649.2 466.8L1649.6 484.0L1651.3 609.5L1651.8 629.0L1652.2 637.0L1652.4 636.4L1652.6 632.7L1653.1 613.9L1655.0 494.8L1655.5 482.4L1655.6 481.8L1655.7 481.9L1655.9 484.7L1656.6 515.7L1658.2 637.2L1658.7 656.2L1659.1 663.1L1659.5 657.4L1659.9 640.4L1661.8 509.7L1662.5 478.9L1662.7 476.9L1663.0 478.4L1663.6 491.6L1665.9 614.2L1666.5 632.0L1666.8 636.0L1667.0 636.7L1667.2 635.2L1667.6 629.9L1668.3 609.5L1671.0 489.8L1671.5 476.0L1671.8 472.4L1672.1 471.2L1672.5 472.4L1672.9 475.9L1673.9 490.9L1674.9 518.6L1678.1 618.3L1679.1 638.4L1679.6 643.3L1680.1 645.1L1680.6 644.8L1681.0 643.5L1682.0 638.8L1682.9 630.4L1683.9 618.8L1685.7 592.1L1689.7 521.6L1691.6 495.1L1692.4 486.5L1693.2 480.8L1694.1 477.1L1694.5 476.2L1694.8 476.0L1695.3 477.4L1695.8 481.6L1696.7 496.7L1697.8 525.6L1701.0 622.4L1702.0 643.0L1702.6 649.2L1703.1 651.5L1703.3 651.6L1703.4 651.1L1703.8 647.4L1704.5 630.5L1707.4 509.5L1708.1 496.7L1708.4 494.2L1708.6 494.2L1708.7 494.9L1709.2 504.5L1709.7 523.3L1711.7 633.4L1712.3 650.0L1712.6 653.5L1712.7 653.9L1712.8 653.7L1713.2 645.6L1713.7 622.4L1715.6 486.6L1716.0 470.1L1716.2 466.1L1716.5 465.1L1716.9 472.5L1717.3 491.9L1719.1 623.8L1719.6 640.1L1719.8 643.6L1719.8 644.1L1720.0 643.9L1720.4 635.6L1720.8 616.7L1722.5 505.9L1722.9 490.7L1723.1 487.3L1723.3 486.6L1723.4 486.8L1723.8 495.4L1724.2 515.7L1726.0 642.9L1726.4 659.7L1726.7 664.4L1727.2 658.5L1727.6 641.1L1729.5 502.3L1730.0 479.7L1730.4 472.6L1730.6 473.2L1730.9 477.3L1731.4 492.6L1733.5 609.0L1734.0 627.2L1734.5 635.5L1734.6 635.8L1734.8 635.5L1735.1 632.0L1735.7 617.4L1738.4 501.4L1739.1 482.9L1739.6 475.3L1739.8 474.7L1740.0 475.0L1740.5 478.0L1741.5 492.5L1742.6 520.8L1745.9 619.5L1746.9 638.9L1747.5 644.1L1747.7 645.1L1748.0 645.5L1748.4 645.1L1748.9 643.8L1749.8 638.9L1750.7 631.1L1751.7 619.6L1753.5 593.2L1757.5 523.1L1759.4 496.6L1760.2 488.0L1761.0 482.2L1761.9 478.4L1762.3 477.6L1762.6 477.4L1763.1 479.0L1763.7 484.7L1764.7 504.9L1768.1 608.4L1769.1 635.8L1770.0 650.9L1770.5 655.0L1770.9 656.1L1771.2 654.8L1771.5 651.1L1772.1 637.3L1774.8 513.9L1775.5 493.7L1775.9 488.5L1776.2 487.1L1776.4 488.5L1776.7 493.5L1777.3 513.5L1779.5 637.7L1780.1 652.0L1780.4 653.9L1780.6 652.4L1781.0 641.1L1781.4 619.9L1783.2 497.6L1783.6 480.2L1784.0 473.4L1784.2 474.5L1784.5 478.7L1785.0 500.0L1786.8 630.4L1787.2 646.3L1787.4 649.8L1787.5 650.3L1787.6 650.1L1788.1 641.3L1788.5 621.6L1790.2 506.5L1790.6 490.8L1790.8 487.2L1790.9 486.6L1791.0 486.8L1791.4 495.2L1791.9 514.9L1793.6 637.9L1794.0 654.2L1794.4 658.7L1794.6 657.3L1794.9 650.8L1795.4 627.8L1797.3 490.9L1797.7 474.2L1797.9 470.1L1798.1 469.0L1798.5 473.7L1799.0 488.8L1801.1 605.4L1801.7 625.9L1802.2 633.1L1802.3 633.1L1802.5 632.6L1802.8 628.8L1803.5 613.8L1806.1 503.2L1806.7 484.6L1807.3 476.0L1807.6 475.6L1807.8 476.2L1808.3 479.6L1809.3 494.5L1810.4 520.5L1813.7 618.7L1814.7 637.6L1815.3 642.8L1815.8 644.2L1816.2 643.8L1816.7 642.6L1817.6 637.8L1818.5 630.2L1819.5 619.0L1821.3 593.0L1825.3 524.0L1827.2 497.8L1828.0 489.3L1828.9 483.2L1829.7 479.6L1830.2 478.8L1830.5 478.7L1831.0 480.7L1831.5 485.7L1832.5 505.6L1835.8 605.3L1836.8 632.4L1837.8 647.2L1838.2 650.8L1838.6 652.1L1838.9 651.2L1839.2 647.9L1839.8 632.3L1842.5 507.3L1843.2 487.6L1843.6 482.8L1843.9 481.8L1844.4 487.9L1844.9 508.0L1847.2 635.6L1847.8 650.5L1848.0 652.5L1848.2 651.2L1848.7 640.1L1849.1 619.0L1850.8 496.7L1851.3 479.3L1851.7 472.6L1851.9 473.6L1852.1 477.9L1852.5 495.5L1854.2 614.7L1854.9 648.8L1855.1 651.1L1855.4 650.3L1855.8 636.4L1857.7 509.0L1858.2 491.3L1858.6 485.3L1858.9 489.7L1859.4 505.7L1861.1 626.7L1861.6 648.4L1862.0 654.7L1862.3 653.4L1862.5 647.1L1863.0 625.0L1864.9 492.7L1865.4 476.4L1865.8 471.2L1866.2 475.8L1866.7 491.0L1868.9 613.4L1869.4 633.2L1869.9 639.3L1870.2 638.4L1870.5 635.3L1871.1 620.6L1873.8 507.0L1874.4 488.6L1875.0 480.7L1875.2 480.0L1875.4 480.2L1875.9 482.7L1877.0 496.9L1878.1 522.9L1881.5 618.7L1882.6 637.6L1883.2 642.2L1883.4 643.0L1883.7 643.3L1884.1 642.9L1884.6 641.5L1885.5 636.7L1886.4 628.9L1887.4 617.6L1889.1 591.6L1893.1 524.1L1895.0 497.9L1895.8 489.4L1896.6 483.7L1897.5 479.8L1897.9 478.9L1898.2 478.7L1898.4 478.9L1898.7 480.1L1899.3 485.4L1900.3 504.9L1903.5 600.6L1904.6 628.6L1905.5 642.4L1906.0 645.8L1906.3 646.3L1906.5 646.2L1907.1 638.2L1907.7 619.7L1910.4 503.7L1911.0 489.3L1911.3 486.4L1911.5 485.8L1911.6 485.8L1912.1 493.2L1912.7 514.4L1914.8 635.2L1915.3 650.7L1915.7 655.2L1916.1 649.7L1916.5 633.1L1918.4 500.6L1918.9 479.0L1919.3 472.1L1919.6 473.2L1919.8 477.4L1920.2 494.8L1921.8 612.6L1922.6 646.2L1922.8 648.5L1923.0 647.6L1923.5 633.4L1925.4 503.9L1925.8 486.1L1926.2 480.0L1926.7 486.5L1927.2 508.4L1928.9 631.0L1929.3 647.1L1929.7 651.7L1929.9 650.3L1930.2 644.1L1930.7 622.1L1932.6 490.7L1933.0 474.4L1933.4 469.0L1933.8 473.5L1934.3 488.6L1936.5 612.3L1937.1 632.6L1937.6 639.3L1937.9 638.6L1938.2 634.5L1938.8 619.3L1941.5 508.5L1942.1 489.7L1942.7 480.6L1942.9 480.0L1943.1 480.2L1943.7 483.3L1944.7 496.5L1945.8 521.7L1949.3 616.5L1950.4 634.9L1951.0 639.5L1951.2 640.3L1951.4 640.7L1951.9 640.3L1952.4 639.0L1953.3 634.3L1954.2 626.8L1955.2 615.8L1956.9 590.4L1961.0 523.2L1962.9 497.8L1963.7 489.6L1964.5 484.1L1965.3 480.5L1965.7 479.7L1966.1 479.6L1966.5 480.9L1966.9 484.5L1967.9 499.5L1968.8 524.4L1971.9 618.2L1973.0 638.0L1973.5 643.1L1974.0 645.0L1974.2 644.8L1974.3 644.0L1974.6 640.7L1975.3 623.6L1978.1 509.4L1978.8 496.4L1979.1 493.8L1979.3 493.7L1979.4 494.5L1979.9 504.1L1980.4 523.3L1982.4 634.7L1982.9 649.4L1983.3 653.9L1983.8 648.2L1984.2 630.8L1986.1 490.9L1986.6 468.0L1987.0 460.7L1987.4 464.2L1987.8 479.9L1989.6 611.0L1990.0 630.6L1990.5 638.4L1990.7 637.5L1990.9 633.5L1991.4 613.6L1993.3 490.3L1993.8 477.9L1993.9 477.4L1994.0 477.6L1994.2 480.5L1994.9 511.6L1996.5 631.5L1996.9 650.2L1997.4 657.0L1997.6 655.6L1997.8 649.3L1998.3 627.3L2000.2 495.4L2000.7 479.0L2001.1 473.4L2001.5 477.6L2002.0 492.2L2004.2 612.2L2004.7 632.3L2005.2 639.3L2005.4 639.3L2005.5 638.7L2005.9 634.9L2006.5 620.0L2009.2 506.5L2009.8 488.0L2010.4 479.2L2010.7 478.7L2010.9 479.2L2011.4 482.1L2012.5 496.9L2013.6 523.1L2017.1 620.0L2018.2 638.9L2018.8 643.7L2019.2 645.1L2019.7 644.7L2020.2 643.5L2021.1 638.7L2022.0 630.9L2023.0 619.5L2024.7 593.1L2028.7 523.0L2030.6 496.5L2031.5 487.9L2032.3 482.2L2033.1 478.4L2033.5 477.5L2033.9 477.4L2034.3 478.8L2034.7 482.7L2035.6 498.7L2036.6 525.7L2039.7 624.0L2040.6 644.2L2041.1 650.0L2041.6 652.5L2041.8 652.4L2042.0 651.8L2042.3 647.7L2043.0 629.8L2045.9 513.2L2046.5 500.7L2046.8 498.5L2047.1 499.8L2047.5 508.0L2048.0 526.2L2050.0 630.6L2050.5 646.3L2051.0 652.1L2051.2 650.8L2051.5 644.2L2052.0 620.4L2053.9 476.1L2054.3 458.6L2054.5 454.3L2054.7 453.2L2055.1 458.7L2055.5 476.9L2057.1 599.6L2057.9 634.3L2058.1 636.6L2058.3 635.8L2058.8 622.9L2060.7 506.5L2061.2 488.9L2061.4 485.8L2061.6 485.3L2061.6 485.5L2062.0 494.5L2062.5 515.0L2064.2 642.1L2064.7 658.8L2065.0 663.6L2065.4 657.8L2065.8 640.6L2067.8 502.6L2068.2 479.4L2068.7 471.4L2068.7 471.2L2068.9 471.6L2069.2 475.1L2069.7 488.8L2071.9 606.7L2072.5 624.9L2073.0 630.5L2073.2 629.6L2073.6 625.5L2074.2 610.6L2076.9 500.9L2077.5 483.3L2078.2 475.1L2078.4 474.7L2078.7 475.3L2079.2 479.0L2080.3 494.9L2081.4 522.3L2084.8 620.6L2085.8 640.1L2086.4 646.0L2086.9 648.4L2087.2 648.6L2087.5 648.1L2088.1 645.5L2089.4 633.3L2090.8 611.1L2093.7 553.9L2094.9 532.4L2096.3 516.5L2097.0 512.9L2097.3 511.9L2097.6 511.7" fill="none" stroke="#0000ff" stroke-width="2.80" stroke-linejoin="round" stroke-linecap="round"/>
<path d="M140.0 955.9L142.0 932.3L143.1 921.8L143.9 916.7L144.5 915.0L144.8 914.7L145.1 914.7L145.6 915.9L146.5 920.5L147.6 931.2L151.3 983.7L152.4 996.7L153.5 1004.3L154.1 1005.7L154.3 1005.7L154.6 1005.3L155.2 1003.1L155.8 999.2L156.9 986.6L160.5 924.8L161.7 909.4L162.8 900.1L163.4 898.3L163.6 898.2L163.9 898.6L164.5 900.9L165.0 905.2L166.2 919.3L169.8 989.3L170.9 1007.0L172.1 1017.8L172.6 1020.0L172.9 1020.3L173.2 1020.0L173.8 1017.6L174.3 1013.1L175.4 997.9L179.1 921.3L180.2 901.8L181.4 889.7L181.9 887.0L182.2 886.6L182.5 886.8L183.0 889.0L183.6 893.6L184.7 909.4L188.4 990.4L189.5 1011.3L190.6 1024.5L191.2 1027.6L191.5 1028.2L191.8 1028.2L192.3 1026.2L192.9 1021.6L194.0 1005.8L197.7 922.6L198.8 900.9L199.9 886.9L200.5 883.5L200.8 882.7L201.0 882.6L201.6 884.4L202.2 888.6L203.3 904.1L204.4 926.9L207.0 986.9L208.1 1008.8L209.2 1023.2L209.8 1026.8L210.1 1027.7L210.3 1028.0L210.9 1026.6L211.5 1022.6L212.6 1008.0L213.7 986.2L216.5 922.1L217.6 902.2L218.8 890.1L219.3 887.5L219.6 887.2L219.9 887.4L220.5 889.7L221.6 901.0L222.7 919.9L225.5 980.1L226.7 1000.4L227.8 1014.1L228.3 1017.9L228.9 1019.4L229.2 1019.3L229.5 1018.6L230.0 1015.7L230.6 1010.7L231.4 999.7L235.1 930.7L236.2 913.3L237.3 902.4L237.9 899.8L238.2 899.3L238.5 899.3L239.0 900.7L239.6 904.1L240.7 916.0L244.4 976.4L245.5 991.7L246.6 1001.5L247.2 1003.9L247.5 1004.5L247.8 1004.6L248.0 1004.2L248.6 1002.3L249.7 993.8L250.8 980.5L253.4 943.8L254.5 929.9L255.6 920.3L256.2 917.5L256.8 916.1L257.0 915.9L257.3 916.1L257.9 917.6L259.0 924.3L260.1 935.1L262.7 964.5L263.8 975.6L264.9 983.4L265.5 985.6L266.0 986.8L266.3 987.0L266.6 986.8L267.2 985.8L268.3 980.7L269.4 972.5L272.8 943.8L274.2 936.1L274.8 934.4L275.3 933.5L275.6 933.4L276.2 933.8L276.7 934.9L277.3 936.7L278.4 942.1L282.1 963.7L283.5 968.9L284.0 970.0L284.6 970.6L284.9 970.7L285.4 970.4L286.6 968.5L287.7 965.0L291.4 951.5L292.5 948.9L293.6 947.7L294.5 947.6L295.6 948.5L296.7 950.3L300.1 957.0L301.5 958.8L302.6 959.5L303.5 959.5L304.6 959.1L308.5 956.1L309.6 955.5L310.8 955.1L312.5 955.1L317.5 955.9L326.2 956.1L328.5 955.7L332.4 954.2L333.8 954.1L335.0 954.4L336.1 955.1L337.5 956.5L340.6 960.4L341.7 961.2L342.6 961.3L343.7 960.8L344.8 959.2L346.2 956.1L349.6 947.2L350.7 945.4L351.6 945.0L352.1 945.2L352.7 945.8L353.8 948.4L355.2 953.8L358.6 969.4L359.7 972.7L360.3 973.6L360.8 973.8L361.4 973.4L362.0 972.3L363.1 968.2L364.2 961.8L367.9 936.3L369.0 931.4L369.6 930.2L370.1 929.8L370.7 930.4L371.3 932.0L372.4 937.8L373.5 946.8L377.2 981.9L378.3 988.5L378.9 990.2L379.4 990.8L380.0 990.0L380.5 988.1L381.7 980.5L382.8 968.9L386.4 923.8L387.6 915.2L388.1 912.9L388.7 912.1L389.3 912.9L389.8 915.3L390.9 924.5L392.1 938.6L395.7 993.6L396.9 1004.1L397.4 1007.0L398.0 1008.1L398.3 1008.0L398.5 1007.4L399.1 1004.7L399.7 1000.3L400.5 990.6L404.2 926.7L405.6 906.5L406.7 897.6L407.3 896.2L407.5 896.2L408.1 897.9L408.7 901.8L409.8 915.2L410.9 934.8L413.5 986.7L414.6 1005.8L415.7 1018.1L416.3 1021.1L416.6 1021.8L416.8 1021.8L417.4 1020.2L418.0 1016.2L419.1 1002.0L420.2 980.9L423.0 918.8L424.1 899.5L425.3 888.0L425.8 885.7L426.1 885.5L426.7 886.9L427.2 890.9L428.6 910.4L432.3 992.7L433.4 1013.2L434.6 1025.8L435.1 1028.4L435.4 1028.8L435.7 1028.5L436.2 1026.0L437.4 1013.7L438.8 987.1L441.3 926.8L442.4 904.1L443.6 888.6L444.1 884.4L444.7 882.7L445.0 882.9L445.2 883.6L445.8 887.1L446.9 901.2L448.1 922.9L451.7 1005.2L452.8 1020.8L453.4 1025.2L454.0 1027.2L454.2 1027.2L454.8 1025.3L455.9 1014.4L457.3 989.7L461.0 910.5L461.8 898.3L462.4 892.7L463.0 889.4L463.3 888.6L463.5 888.5L464.1 890.0L464.7 893.8L465.8 907.6L469.4 981.3L470.6 1000.6L471.7 1013.3L472.3 1016.5L472.5 1017.3L472.8 1017.6L473.1 1017.3L473.4 1016.5L473.9 1013.2L475.1 1001.0L476.2 982.8L478.7 934.8L480.1 913.7L481.3 903.9L481.8 901.7L482.1 901.4L482.4 901.6L482.9 903.3L484.1 912.1L485.2 926.7L488.9 984.5L490.3 998.2L490.8 1001.0L491.4 1002.1L491.7 1002.1L492.2 1000.7L493.4 993.5L494.5 981.5L498.1 933.4L499.5 922.0L500.1 919.6L500.7 918.5L501.0 918.5L501.5 919.5L502.6 925.1L503.8 934.6L507.4 972.6L508.8 981.6L509.4 983.5L510.0 984.4L510.2 984.4L510.5 984.2L511.1 983.0L512.2 978.0L513.3 970.4L515.9 950.1L517.3 941.2L518.4 937.0L519.0 936.0L519.5 935.7L520.4 936.7L521.5 940.2L525.1 959.3L526.3 964.2L527.4 967.4L528.2 968.5L529.1 968.6L529.6 968.0L530.2 967.1L531.3 964.2L533.9 955.9L535.3 952.0L536.7 949.7L537.2 949.2L537.8 949.1L538.6 949.3L539.8 950.4L542.9 955.3L544.3 957.2L545.1 958.0L546.2 958.5L547.1 958.5L547.9 958.3L552.2 956.1L554.4 955.5L564.3 955.9L568.5 956.3L570.2 956.2L572.1 955.6L575.8 953.6L577.5 953.3L578.9 953.8L580.0 954.9L583.7 960.6L584.8 962.0L585.6 962.6L586.5 962.7L587.6 961.8L589.0 959.1L593.5 945.3L594.6 943.4L595.5 943.1L596.0 943.5L596.6 944.4L598.0 948.7L601.7 967.7L602.8 972.7L603.9 975.6L604.5 976.1L604.8 976.0L605.3 975.4L605.9 974.0L607.0 969.1L608.1 961.7L611.5 935.5L612.6 929.7L613.2 928.1L613.8 927.4L614.3 927.7L614.9 929.1L616.0 934.9L617.4 947.0L620.0 974.4L621.1 984.6L622.2 991.3L622.8 993.0L623.0 993.3L623.3 993.3L623.9 992.2L624.5 989.8L625.9 978.4L629.5 930.3L630.6 918.3L631.8 911.1L632.3 909.7L632.6 909.7L633.2 910.8L633.7 913.6L635.1 927.3L638.8 985.1L639.9 999.7L641.1 1008.5L641.6 1010.2L641.9 1010.4L642.2 1010.1L642.7 1007.9L643.9 998.1L645.3 977.0L647.8 929.0L648.9 910.8L650.1 898.6L650.6 895.3L650.9 894.5L651.2 894.2L651.5 894.5L651.7 895.3L652.3 898.5L653.4 911.2L654.6 930.5L658.2 1004.2L659.3 1018.0L659.9 1021.8L660.5 1023.3L660.7 1023.2L661.0 1022.4L661.6 1019.1L662.2 1013.5L663.0 1001.3L666.7 922.1L668.1 897.4L669.2 886.5L669.8 884.6L670.0 884.6L670.6 886.6L671.2 891.0L672.3 906.6L675.9 988.9L677.1 1010.6L678.2 1024.7L678.8 1028.2L679.0 1028.9L679.3 1029.1L679.9 1027.4L680.4 1023.2L681.6 1007.7L682.7 985.0L685.2 924.7L686.6 898.1L687.8 885.8L688.3 883.3L688.6 883.0L688.9 883.4L689.4 886.0L690.6 898.6L691.7 919.1L695.4 1001.4L696.8 1020.9L697.3 1024.9L697.9 1026.3L698.2 1026.1L698.7 1023.8L699.9 1012.3L701.0 993.0L703.8 930.9L704.9 909.8L706.0 895.6L706.6 891.6L707.2 890.0L707.4 890.0L707.7 890.7L708.3 893.7L709.4 906.0L710.5 925.1L713.1 977.0L714.2 996.6L715.3 1010.0L715.9 1013.9L716.5 1015.6L716.7 1015.6L717.3 1014.2L718.4 1005.3L719.8 985.1L723.5 921.2L724.3 911.5L724.9 907.1L725.5 904.4L725.7 903.8L726.0 903.7L726.6 904.8L727.1 907.7L728.3 918.2L731.9 973.2L733.1 987.3L734.2 996.5L734.7 998.9L735.3 999.7L735.9 998.9L736.4 996.6L737.6 988.0L741.2 942.9L742.3 931.3L743.5 923.7L744.0 921.8L744.6 921.0L745.1 921.6L745.7 923.3L746.8 929.9L750.5 965.0L751.6 974.0L752.7 979.8L753.3 981.4L753.9 982.0L754.4 981.6L755.0 980.4L756.1 975.5L759.8 950.0L760.9 943.6L762.0 939.5L762.6 938.4L763.2 938.0L763.7 938.2L764.3 939.1L765.4 942.4L768.8 958.0L770.2 963.4L771.3 966.0L771.9 966.6L772.4 966.8L773.3 966.4L774.4 964.6L777.8 955.7L779.2 952.6L780.3 951.0L781.4 950.5L782.3 950.6L783.4 951.4L786.5 955.3L787.9 956.7L789.0 957.4L790.2 957.7L791.6 957.6L795.5 956.1L797.8 955.7L806.5 955.9L811.5 956.7L813.2 956.7L814.4 956.3L815.5 955.7L819.4 952.7L820.5 952.3L821.4 952.3L822.5 953.0L823.9 954.8L827.3 961.5L828.4 963.3L829.5 964.2L830.4 964.1L831.5 962.9L832.6 960.3L836.3 946.8L837.4 943.3L838.6 941.4L839.1 941.1L839.4 941.2L840.0 941.8L840.5 942.9L841.9 948.1L845.6 969.7L846.7 975.1L847.3 976.9L847.8 978.0L848.4 978.4L848.7 978.3L849.2 977.4L849.8 975.7L851.2 968.0L854.6 939.3L855.7 931.1L856.8 926.0L857.4 925.0L857.7 924.8L858.0 925.0L858.5 926.2L859.1 928.4L860.2 936.2L861.3 947.3L863.9 976.7L865.0 987.5L866.1 994.2L866.7 995.7L867.0 995.9L867.2 995.7L867.8 994.3L868.4 991.5L869.5 981.9L870.6 968.0L873.2 931.3L874.3 918.0L875.4 909.5L876.0 907.6L876.2 907.2L876.5 907.3L876.8 907.9L877.4 910.3L878.5 920.1L879.6 935.4L883.3 995.8L884.1 1005.3L884.7 1009.6L885.3 1012.1L885.5 1012.5L885.8 1012.5L886.4 1010.9L886.9 1007.4L888.1 994.7L889.2 976.0L892.0 921.3L893.1 904.4L894.3 894.4L894.8 892.5L895.1 892.4L895.7 893.9L896.2 897.7L897.3 911.4L898.5 931.7L901.3 991.9L902.4 1010.8L903.5 1022.1L904.1 1024.4L904.4 1024.6L904.7 1024.3L905.2 1021.7L906.4 1009.6L907.5 989.7L910.3 925.6L911.4 903.8L912.5 889.2L913.1 885.2L913.7 883.8L913.9 884.1L914.2 885.0L914.8 888.6L915.9 903.0L917.0 924.9L919.6 984.9L920.7 1007.7L921.8 1023.2L922.4 1027.4L923.0 1029.2L923.2 1029.1L923.5 1028.3L924.1 1024.9L925.2 1010.9L926.3 989.2L930.0 906.0L931.1 890.2L931.7 885.6L932.2 883.6L932.5 883.6L932.8 884.2L933.4 887.3L934.5 900.5L935.6 921.4L939.3 1002.4L940.4 1018.2L941.0 1022.8L941.5 1025.0L941.8 1025.2L942.1 1024.8L942.6 1022.1L943.8 1010.0L944.9 990.5L948.6 913.9L949.7 898.7L950.2 894.2L950.8 891.8L951.1 891.5L951.4 891.8L951.9 894.0L953.1 904.8L954.2 922.5L957.8 992.5L959.0 1006.6L959.5 1010.9L960.1 1013.2L960.4 1013.6L960.6 1013.5L961.2 1011.7L962.3 1002.4L963.5 987.0L967.1 925.2L968.2 912.6L968.8 908.7L969.4 906.5L969.7 906.1L969.9 906.1L970.5 907.5L971.6 915.1L972.7 928.1L976.4 980.6L977.5 991.3L978.4 995.9L978.9 997.1L979.2 997.1L979.5 996.8L980.1 995.1L980.9 990.0L982.0 979.5L984.0 955.9" fill="none" stroke="#0000ff" stroke-width="2.80" stroke-linejoin="round" stroke-linecap="round"/>
<path d="M1252.8 952.8L1253.1 952.2L1253.4 950.4L1254.1 941.3L1256.5 892.4L1257.0 886.3L1257.3 884.9L1257.4 884.6L1257.7 884.7L1258.3 886.1L1258.9 888.9L1260.0 898.3L1263.6 946.0L1264.9 959.4L1265.6 964.5L1266.3 967.5L1266.7 968.2L1267.0 968.2L1267.6 966.9L1268.6 960.5L1269.6 949.7L1272.9 896.9L1274.1 882.1L1275.3 871.6L1275.9 869.6L1276.2 869.2L1276.5 869.4L1276.9 871.0L1277.4 875.7L1278.6 893.3L1279.7 919.6L1282.9 1007.3L1283.9 1026.3L1284.9 1037.7L1285.5 1040.2L1285.7 1040.4L1286.0 1039.9L1286.7 1036.8L1287.4 1030.8L1288.8 1011.5L1292.6 946.0L1293.9 933.0L1294.6 929.6L1294.9 929.1L1295.2 929.1L1295.7 930.8L1296.3 934.7L1297.6 950.6L1301.1 1020.6L1302.4 1041.6L1303.5 1053.1L1304.1 1055.7L1304.5 1056.2L1304.9 1055.1L1305.5 1050.8L1306.6 1033.5L1307.9 1002.8L1311.1 909.7L1312.2 887.2L1313.2 876.4L1313.8 874.5L1314.0 874.7L1314.5 875.9L1315.0 879.3L1315.7 886.3L1317.0 905.1L1320.8 974.5L1322.1 988.3L1322.6 991.4L1322.9 992.2L1323.2 992.4L1323.5 992.1L1323.8 991.3L1324.3 988.1L1325.6 973.7L1329.3 903.7L1330.5 883.4L1331.6 872.2L1332.2 869.7L1332.6 869.2L1333.1 870.1L1333.6 873.7L1334.6 885.7L1335.9 910.2L1339.5 995.6L1340.8 1013.5L1341.4 1017.7L1341.9 1019.3L1342.3 1018.9L1342.9 1017.0L1344.0 1008.6L1345.3 993.3L1349.0 940.5L1350.2 929.7L1350.8 927.2L1351.4 926.4L1351.9 927.2L1352.5 929.7L1353.8 940.5L1357.6 995.2L1358.8 1010.0L1359.5 1015.4L1360.1 1018.1L1360.5 1019.1L1360.8 1019.3L1361.4 1018.2L1362.3 1012.3L1363.5 999.9L1366.7 948.8L1368.0 931.9L1369.1 922.3L1369.7 920.0L1370.1 919.4L1370.5 919.6L1371.1 920.7L1372.2 925.7L1373.5 934.8L1377.0 965.1L1378.3 971.9L1378.8 973.6L1379.4 974.3L1379.8 974.3L1380.4 973.3L1381.5 968.6L1382.8 959.7L1385.4 936.0L1386.6 927.4L1387.8 921.2L1388.4 919.8L1389.0 919.4L1389.4 919.7L1389.9 921.0L1391.1 926.3L1392.2 934.4L1395.9 965.7L1397.0 971.8L1397.5 973.5L1398.1 974.3L1398.7 974.2L1399.2 973.6L1400.4 970.5L1401.6 964.9L1405.3 945.7L1406.6 941.7L1407.1 940.8L1407.7 940.5L1408.1 940.7L1408.7 941.4L1409.8 944.7L1411.1 950.5L1414.4 969.0L1415.6 973.1L1416.1 974.4L1416.7 975.1L1417.3 975.2L1417.8 974.8L1418.4 973.8L1419.1 972.0L1420.4 967.1L1424.0 950.1L1425.3 946.5L1425.8 945.7L1426.4 945.3L1427.0 945.5L1427.5 946.2L1428.8 949.3L1429.9 953.6L1432.6 965.4L1434.0 970.1L1434.7 971.7L1435.3 972.4L1436.0 972.6L1436.5 972.2L1437.5 970.3L1438.5 967.0L1441.9 951.1L1443.0 946.6L1444.1 943.7L1444.7 942.9L1445.1 942.7L1445.7 942.9L1446.4 943.8L1447.7 947.4L1451.3 964.5L1452.6 969.3L1453.7 972.0L1454.3 972.5L1454.8 972.6L1455.4 971.9L1456.0 970.6L1457.1 966.1L1460.6 944.1L1461.9 937.4L1463.0 933.7L1463.6 932.8L1464.0 932.6L1464.6 933.0L1465.1 934.2L1466.4 939.7L1470.1 966.2L1471.3 973.9L1472.4 978.1L1473.0 979.0L1473.4 979.2L1474.0 978.6L1474.6 977.0L1475.8 969.9L1479.5 936.4L1480.8 926.7L1481.9 921.6L1482.4 920.4L1482.9 920.3L1483.4 921.1L1484.0 923.2L1485.3 931.9L1488.8 971.1L1490.0 983.0L1491.2 989.6L1491.7 991.2L1492.2 991.5L1492.7 990.9L1493.3 988.9L1494.6 980.0L1498.2 936.7L1499.5 924.2L1500.6 917.3L1501.2 915.7L1501.5 915.4L1501.7 915.5L1502.3 916.9L1502.9 919.9L1504.0 930.3L1507.6 984.2L1508.9 999.6L1510.0 1007.9L1510.6 1009.7L1511.0 1010.0L1511.6 1008.8L1512.2 1005.8L1513.4 993.1L1516.9 936.3L1518.2 919.0L1519.3 909.4L1519.9 907.1L1520.3 906.6L1520.6 906.9L1520.9 907.6L1521.4 910.4L1522.7 922.9L1526.4 983.9L1527.6 1001.7L1528.8 1011.4L1529.3 1013.6L1529.8 1014.0L1530.2 1013.2L1530.7 1010.2L1531.7 1000.0L1533.0 979.3L1536.7 906.9L1537.9 891.7L1538.5 888.1L1539.0 886.8L1539.3 887.0L1539.6 887.8L1540.2 891.0L1541.4 905.6L1542.6 925.4L1545.2 980.8L1546.5 1001.4L1547.6 1012.3L1548.2 1014.6L1548.5 1014.9L1548.6 1014.8L1549.2 1013.0L1549.7 1009.0L1551.0 992.6L1554.5 920.1L1555.8 898.4L1556.9 886.5L1557.5 883.8L1557.9 883.3L1558.3 884.2L1558.9 887.6L1559.9 899.3L1561.2 923.1L1564.8 1006.0L1566.1 1023.4L1566.6 1027.4L1567.2 1028.9L1567.6 1028.4L1568.2 1025.7L1569.3 1013.8L1570.6 992.0L1574.2 917.0L1575.5 901.6L1576.1 898.1L1576.4 897.2L1576.6 896.9L1576.9 897.2L1577.2 898.1L1577.8 901.5L1579.0 916.8L1582.8 993.8L1584.1 1014.5L1584.8 1022.2L1585.4 1026.0L1585.8 1027.4L1586.1 1027.6L1586.6 1026.2L1587.6 1018.3L1588.7 1001.6L1592.0 932.9L1593.3 910.2L1594.4 897.4L1594.9 894.2L1595.4 893.4L1595.8 893.8L1596.4 896.1L1597.5 905.8L1598.7 923.6L1602.4 984.8L1603.7 997.4L1604.2 1000.3L1604.5 1001.0L1604.8 1001.2L1605.2 1000.7L1605.8 998.4L1606.9 988.9L1608.2 971.7L1611.7 915.1L1613.0 902.5L1613.5 899.5L1614.1 898.3L1614.5 898.5L1615.1 900.4L1616.2 908.8L1617.5 924.4L1621.1 979.1L1622.4 990.5L1623.0 993.2L1623.5 994.2L1623.9 993.9L1624.5 992.6L1625.6 986.6L1626.9 975.6L1630.4 939.0L1631.7 930.7L1632.3 928.7L1632.8 927.8L1633.2 927.9L1633.8 929.0L1634.9 934.5L1636.2 944.9L1638.9 972.9L1640.0 982.9L1641.3 990.3L1641.8 991.9L1642.4 992.4L1643.0 991.9L1643.5 990.4L1644.6 984.8L1645.8 976.5L1649.0 948.8L1650.0 942.7L1651.0 939.2L1651.5 938.4L1652.1 938.4L1652.8 939.4L1653.5 941.2L1654.9 946.9L1658.7 966.3L1660.0 970.1L1660.7 971.1L1661.3 971.3L1661.8 970.8L1662.4 969.5L1663.7 964.6L1667.2 942.8L1668.4 936.2L1669.4 933.0L1670.0 932.0L1670.4 931.7L1671.0 931.9L1671.5 932.6L1672.7 935.5L1673.8 940.0L1677.3 956.7L1678.4 960.3L1679.0 961.4L1679.6 962.0L1680.1 962.0L1680.8 961.6L1682.1 959.5L1683.4 956.2L1686.2 947.5L1687.6 944.2L1688.3 943.2L1689.0 942.7L1689.6 942.8L1690.1 943.4L1691.1 945.7L1692.1 949.5L1696.3 970.9L1697.4 974.3L1698.0 975.3L1698.6 975.7L1699.1 975.5L1699.7 974.7L1701.0 971.0L1702.1 966.0L1704.9 951.0L1706.2 945.9L1706.9 944.0L1707.4 943.0L1708.0 942.7L1708.6 943.0L1709.6 945.2L1710.7 950.0L1714.1 971.6L1715.3 978.3L1716.6 982.4L1717.2 983.1L1717.7 983.0L1718.3 981.9L1718.8 979.8L1720.0 972.6L1723.5 938.2L1724.8 927.9L1725.9 922.2L1726.5 920.9L1726.9 920.7L1727.4 921.4L1728.0 923.4L1729.3 931.9L1732.9 972.4L1734.2 984.0L1735.3 990.2L1735.9 991.5L1736.3 991.7L1736.9 990.7L1737.4 988.0L1738.7 976.8L1742.2 926.4L1743.5 911.0L1744.6 902.5L1745.2 900.5L1745.5 900.1L1745.7 900.1L1746.3 901.6L1746.9 905.0L1748.1 918.9L1751.7 980.5L1752.9 999.0L1754.0 1009.0L1754.6 1011.3L1755.0 1011.8L1755.6 1010.6L1756.2 1007.3L1757.4 993.3L1761.1 926.4L1762.4 907.2L1763.5 896.9L1764.0 894.7L1764.5 894.3L1765.0 895.9L1765.6 899.9L1766.9 916.7L1770.4 991.9L1771.6 1014.7L1772.8 1027.5L1773.3 1030.5L1773.8 1031.1L1774.0 1030.8L1774.3 1029.9L1774.9 1026.1L1776.2 1009.3L1779.8 927.6L1781.1 903.8L1782.2 890.8L1782.8 887.8L1783.2 887.3L1783.8 888.8L1784.3 892.8L1785.6 910.2L1789.2 992.8L1790.7 1018.6L1791.4 1026.9L1791.9 1031.0L1792.3 1032.3L1792.6 1032.4L1793.2 1030.6L1794.2 1020.9L1795.3 1001.2L1798.5 920.8L1799.7 897.0L1800.8 881.3L1801.4 877.2L1801.6 876.2L1801.9 875.8L1802.3 876.6L1802.9 879.8L1804.0 893.5L1805.3 918.3L1808.8 999.5L1810.1 1017.6L1810.6 1021.9L1811.2 1023.6L1811.6 1023.2L1812.2 1020.5L1813.3 1008.1L1814.6 985.0L1818.3 904.3L1819.5 887.4L1820.1 883.5L1820.6 882.0L1821.1 882.5L1821.6 885.4L1822.8 898.0L1824.0 921.0L1827.7 1000.3L1829.0 1016.6L1829.5 1020.2L1829.8 1021.2L1830.1 1021.5L1830.5 1020.9L1831.1 1018.3L1832.2 1007.4L1833.5 987.9L1837.0 923.6L1838.2 909.2L1838.8 905.8L1839.4 904.4L1839.8 904.7L1840.4 906.8L1841.5 916.3L1842.8 934.0L1846.4 995.6L1847.7 1008.5L1848.2 1011.5L1848.8 1012.7L1849.2 1012.3L1849.8 1010.4L1850.9 1001.9L1852.2 986.3L1855.8 932.8L1857.1 921.8L1857.7 919.3L1858.2 918.5L1858.7 918.8L1859.2 920.3L1860.4 926.5L1861.6 937.7L1865.1 974.4L1866.3 982.0L1866.8 984.2L1867.4 985.3L1867.7 985.4L1868.0 985.2L1868.5 984.0L1869.6 978.7L1870.9 968.7L1874.6 933.9L1875.7 927.1L1876.3 925.2L1876.8 924.3L1877.4 924.4L1878.0 925.3L1879.2 929.8L1880.3 936.2L1883.7 958.9L1884.7 963.6L1885.7 966.3L1886.3 966.9L1886.8 966.8L1887.5 966.1L1888.2 964.9L1889.6 960.9L1893.4 947.7L1894.7 945.2L1895.4 944.5L1896.0 944.5L1896.5 944.9L1897.1 945.9L1898.2 949.1L1901.9 965.9L1903.0 970.3L1904.1 973.1L1904.7 973.8L1905.1 973.9L1905.7 973.8L1906.3 973.3L1907.4 971.5L1908.5 968.8L1912.0 958.6L1913.2 956.5L1914.1 955.6L1914.7 955.5L1915.4 955.7L1916.8 957.0L1920.9 963.8L1922.3 965.6L1923.0 966.2L1923.7 966.4L1924.3 966.4L1924.7 966.0L1925.7 963.8L1926.7 960.2L1931.0 938.9L1932.2 935.6L1932.7 934.7L1933.3 934.3L1933.8 934.6L1934.4 935.4L1935.7 939.0L1936.8 944.0L1939.5 957.9L1940.7 963.1L1941.5 965.0L1942.0 966.0L1942.6 966.4L1943.1 966.3L1944.1 964.4L1945.3 960.2L1948.8 939.8L1949.9 934.3L1951.0 930.7L1951.6 929.8L1952.2 929.5L1952.6 929.9L1953.1 931.4L1954.1 936.5L1955.4 946.8L1959.1 982.9L1960.3 990.4L1960.9 992.2L1961.4 992.9L1962.0 992.4L1962.6 990.7L1963.8 982.9L1965.0 972.3L1967.6 942.8L1968.9 931.8L1970.0 926.0L1970.6 924.8L1971.0 924.7L1971.6 925.8L1972.1 928.3L1973.4 938.7L1976.9 984.5L1978.2 998.3L1979.3 1005.8L1979.9 1007.5L1980.2 1007.8L1980.5 1007.7L1981.0 1006.1L1981.6 1002.6L1982.7 990.5L1986.4 927.9L1987.5 911.6L1988.6 901.1L1989.2 898.5L1989.6 897.8L1989.9 898.0L1990.2 898.7L1990.7 901.6L1992.0 914.8L1993.1 932.7L1995.8 982.8L1997.1 1001.4L1998.2 1011.2L1998.8 1013.3L1999.0 1013.5L1999.2 1013.5L1999.7 1011.7L2000.3 1007.8L2001.6 991.5L2005.1 919.8L2006.4 898.2L2007.3 887.5L2007.9 884.3L2008.3 883.3L2008.8 883.7L2009.3 886.5L2010.4 899.2L2011.7 922.9L2015.4 1005.4L2016.6 1022.8L2017.2 1026.8L2017.8 1028.3L2018.2 1027.7L2018.8 1024.7L2019.9 1011.6L2021.1 987.7L2024.7 907.9L2025.9 889.7L2026.5 885.3L2027.1 883.4L2027.3 883.4L2027.6 884.1L2028.2 887.4L2029.3 901.4L2030.6 926.6L2034.1 1009.5L2035.4 1028.0L2035.9 1032.4L2036.5 1034.2L2036.9 1033.8L2037.5 1030.9L2038.6 1017.9L2039.9 993.6L2043.5 909.0L2044.7 892.6L2045.2 887.8L2045.8 885.6L2046.1 885.5L2046.3 886.1L2046.9 888.9L2048.0 901.7L2049.3 924.9L2052.8 1002.5L2054.1 1020.1L2054.7 1024.4L2055.2 1026.2L2055.5 1026.2L2055.8 1025.6L2056.3 1022.6L2057.5 1010.0L2058.7 987.1L2062.3 912.2L2063.4 896.9L2063.9 892.3L2064.5 890.1L2064.8 889.9L2065.1 890.3L2065.6 892.6L2066.8 903.3L2068.0 923.2L2071.6 990.4L2072.7 1004.7L2073.2 1009.1L2073.8 1011.4L2074.1 1011.8L2074.4 1011.6L2074.9 1009.8L2075.5 1006.1L2076.2 999.0L2077.5 980.6L2081.0 919.3L2082.1 906.5L2082.7 902.7L2083.2 900.7L2083.5 900.5L2083.8 900.7L2084.4 902.5L2084.9 906.0L2085.6 912.5L2086.9 929.4L2090.1 981.1L2091.1 992.5L2092.1 999.4L2092.5 1000.8L2093.0 1001.2L2093.2 1000.8L2093.7 999.2L2094.4 994.0L2096.5 972.7L2097.0 969.4L2097.3 968.5L2097.6 968.2" fill="none" stroke="#0000ff" stroke-width="2.80" stroke-linejoin="round" stroke-linecap="round"/>
<path d="M140.0 1348.4L164.8 1348.3L166.4 1348.0L167.6 1347.5L168.7 1346.6L169.5 1345.4L170.7 1343.2L171.5 1340.6L173.2 1333.0L174.9 1321.6L178.8 1289.2L180.2 1281.9L180.8 1280.5L181.4 1280.0L181.9 1280.5L182.5 1281.7L183.9 1288.1L188.4 1322.4L190.4 1334.4L191.5 1339.2L192.6 1342.7L193.7 1345.0L195.1 1346.8L196.3 1347.6L197.7 1348.1L201.9 1348.4L246.6 1348.4L249.7 1348.2L251.7 1347.6L253.4 1346.2L254.8 1343.7L255.9 1340.4L257.0 1335.6L259.0 1323.0L262.4 1293.7L263.5 1285.4L264.6 1279.8L265.2 1278.3L265.8 1277.8L266.3 1278.3L266.9 1279.5L268.3 1286.1L273.1 1323.6L274.5 1332.4L275.6 1337.8L277.0 1342.5L277.9 1344.4L278.7 1345.8L279.5 1346.7L280.7 1347.5L281.8 1348.0L283.5 1348.3L288.5 1348.4L331.9 1348.4L335.2 1348.0L336.4 1347.6L337.5 1346.8L338.6 1345.4L339.7 1343.2L340.9 1339.8L341.7 1336.4L343.7 1325.3L347.6 1297.1L349.0 1290.9L349.6 1289.6L350.2 1289.2L350.7 1289.6L351.3 1290.7L352.7 1296.2L357.2 1325.9L359.2 1336.3L360.3 1340.4L361.4 1343.4L362.5 1345.5L363.9 1347.0L365.1 1347.7L366.5 1348.1L370.7 1348.4L415.1 1348.4L418.2 1348.3L420.2 1347.7L421.9 1346.5L423.3 1344.3L424.7 1340.4L425.8 1335.6L427.8 1323.0L431.2 1293.7L432.3 1285.4L433.4 1279.8L434.0 1278.3L434.6 1277.8L435.1 1278.3L435.7 1279.5L437.1 1286.1L441.9 1323.6L443.3 1332.4L444.4 1337.8L445.8 1342.5L447.2 1345.3L448.9 1347.2L450.0 1347.8L451.4 1348.2L456.5 1348.4L500.7 1348.4L504.0 1348.0L505.2 1347.5L506.3 1346.6L507.4 1345.1L508.5 1342.6L509.7 1338.8L510.5 1334.9L512.5 1322.4L516.4 1290.8L517.8 1283.7L518.4 1282.3L519.0 1281.9L519.5 1282.3L520.1 1283.5L521.5 1289.7L526.3 1325.0L527.7 1333.3L528.8 1338.4L530.2 1342.8L531.6 1345.5L533.3 1347.2L534.4 1347.8L535.6 1348.1L540.6 1348.4L584.8 1348.4L588.4 1348.0L589.6 1347.6L590.7 1346.8L591.8 1345.5L592.9 1343.3L594.1 1340.0L594.9 1336.7L596.9 1325.7L600.8 1298.1L602.2 1292.0L602.8 1290.7L603.4 1290.3L603.9 1290.7L604.5 1291.7L605.9 1297.2L610.4 1326.3L612.4 1336.5L613.2 1339.7L614.3 1342.9L615.5 1345.1L616.9 1346.8L618.0 1347.6L619.4 1348.1L623.3 1348.4L668.3 1348.4L671.4 1348.3L673.4 1347.8L675.1 1346.8L676.5 1344.8L677.9 1341.4L679.0 1337.3L681.0 1326.3L684.4 1300.9L685.5 1293.6L686.6 1288.7L687.2 1287.5L687.8 1287.0L688.3 1287.4L688.9 1288.5L690.3 1294.2L694.8 1325.0L696.8 1335.8L697.6 1339.2L698.7 1342.6L699.9 1344.9L701.3 1346.7L702.4 1347.5L703.5 1348.0L705.2 1348.3L707.4 1348.4L752.2 1348.4L755.3 1348.3L757.0 1348.1L758.9 1347.1L759.8 1346.3L760.6 1345.1L762.0 1341.9L763.2 1337.8L764.3 1332.2L765.4 1325.0L768.8 1298.0L769.9 1290.3L771.0 1285.2L771.6 1283.8L772.2 1283.3L772.7 1283.7L773.3 1284.9L774.7 1291.0L779.2 1323.6L781.2 1335.0L782.0 1338.6L783.1 1342.2L784.3 1344.7L785.7 1346.6L786.8 1347.4L787.9 1347.9L789.3 1348.2L791.6 1348.4L835.5 1348.4L840.2 1348.3L841.6 1348.0L842.8 1347.4L843.6 1346.8L844.5 1345.8L845.9 1343.0L847.3 1338.2L848.4 1332.5L849.5 1325.1L853.2 1293.7L854.3 1285.4L855.4 1279.8L856.0 1278.3L856.6 1277.8L857.1 1278.3L857.7 1279.5L859.1 1286.1L863.6 1321.5L865.6 1333.9L866.4 1337.8L867.5 1341.7L868.7 1344.4L870.1 1346.4L871.2 1347.4L872.3 1347.9L873.7 1348.2L876.0 1348.4L919.3 1348.4L924.4 1348.3L925.8 1348.0L926.9 1347.6L928.0 1346.8L928.9 1345.8L930.3 1343.0L931.7 1338.2L932.8 1332.5L933.9 1325.1L937.6 1293.7L938.7 1285.4L939.8 1279.8L940.4 1278.3L941.0 1277.8L941.5 1278.3L942.1 1279.5L943.5 1286.1L948.0 1321.5L949.7 1332.4L951.4 1339.9L952.2 1342.5L953.3 1344.9L954.5 1346.4L955.6 1347.4L957.0 1348.0L958.7 1348.3L962.6 1348.4L984.0 1348.4" fill="none" stroke="#0000ff" stroke-width="2.80" stroke-linejoin="round" stroke-linecap="round"/>
<path d="M1252.8 1356.2L1254.3 1355.5L1255.8 1353.8L1257.8 1350.8L1259.6 1347.5L1261.1 1342.0L1265.3 1321.6L1266.6 1318.0L1267.3 1317.1L1267.8 1317.2L1268.3 1317.8L1269.1 1319.5L1270.6 1325.5L1275.3 1354.1L1276.8 1361.7L1277.6 1364.5L1278.3 1366.5L1279.1 1367.4L1279.6 1367.4L1279.8 1367.2L1280.3 1366.4L1281.1 1364.2L1282.6 1357.2L1287.3 1324.4L1289.1 1314.0L1290.6 1308.4L1291.3 1307.1L1291.8 1306.9L1292.6 1307.4L1293.3 1308.5L1294.8 1312.5L1296.6 1319.2L1301.8 1342.8L1303.6 1348.3L1304.3 1349.8L1305.1 1350.7L1305.8 1350.9L1306.3 1350.5L1307.6 1348.3L1308.8 1344.6L1312.1 1333.4L1313.1 1330.8L1314.1 1329.2L1314.6 1328.9L1315.1 1328.9L1316.6 1329.8L1318.1 1331.6L1322.6 1338.2L1323.8 1339.3L1325.1 1339.6L1325.8 1339.1L1326.8 1337.8L1330.8 1329.6L1331.6 1328.7L1332.3 1328.3L1333.1 1328.5L1333.8 1329.0L1335.6 1331.6L1337.1 1334.8L1341.1 1344.7L1342.8 1348.1L1344.3 1349.9L1345.1 1350.3L1345.6 1350.2L1346.1 1349.7L1346.6 1348.8L1347.6 1345.7L1350.8 1331.4L1352.1 1326.7L1353.1 1324.2L1353.6 1323.6L1354.1 1323.5L1354.6 1323.8L1355.3 1325.0L1356.8 1329.2L1361.3 1348.7L1362.8 1354.1L1364.1 1357.0L1364.8 1357.7L1365.3 1357.8L1366.1 1356.9L1366.8 1355.2L1368.3 1349.3L1369.8 1341.3L1373.6 1318.1L1375.3 1309.3L1376.8 1304.4L1377.6 1303.3L1378.1 1303.1L1378.8 1303.5L1379.6 1304.7L1381.3 1309.5L1383.3 1317.9L1387.3 1338.0L1389.1 1345.8L1390.8 1351.6L1391.8 1353.7L1392.6 1354.5L1393.1 1354.6L1393.8 1354.2L1394.6 1353.1L1395.3 1351.5L1396.8 1346.9L1400.1 1334.8L1401.6 1329.9L1403.1 1326.6L1403.8 1325.8L1404.3 1325.6L1405.1 1326.2L1406.1 1328.7L1410.3 1347.0L1411.3 1349.8L1412.1 1350.8L1412.6 1350.9L1413.3 1350.5L1414.8 1348.8L1416.3 1346.1L1420.3 1337.6L1421.6 1335.6L1422.8 1334.4L1423.6 1334.2L1424.1 1334.3L1425.1 1335.3L1426.1 1336.9L1429.3 1343.4L1430.3 1344.7L1431.1 1345.0L1431.8 1344.7L1432.6 1343.8L1436.3 1336.0L1437.3 1334.6L1438.1 1334.2L1438.6 1334.4L1439.1 1334.9L1440.3 1337.3L1443.8 1348.1L1445.1 1351.2L1446.1 1352.7L1446.6 1353.0L1447.1 1352.9L1448.1 1352.1L1449.1 1350.5L1451.1 1345.1L1453.1 1337.7L1458.1 1316.6L1460.3 1308.8L1461.3 1306.2L1462.3 1304.3L1463.3 1303.2L1464.1 1303.0L1464.8 1303.2L1465.6 1303.8L1467.1 1305.8L1469.8 1311.2L1470.6 1313.5L1472.3 1323.2L1476.8 1356.3L1478.1 1362.5L1478.8 1364.6L1479.3 1365.2L1479.8 1365.2L1480.3 1364.7L1481.6 1361.7L1483.1 1355.8L1487.3 1335.9L1488.6 1332.1L1489.3 1330.8L1489.8 1330.5L1490.6 1330.9L1491.6 1332.7L1492.8 1336.4L1496.3 1348.9L1497.3 1351.1L1497.8 1351.7L1498.3 1351.9L1499.3 1351.4L1500.3 1350.2L1504.8 1341.1L1505.8 1339.6L1506.6 1338.8L1507.6 1338.5L1508.6 1339.0L1509.8 1340.5L1512.8 1344.8L1513.8 1345.8L1514.8 1346.0L1515.6 1345.5L1516.3 1344.6L1519.3 1338.8L1520.3 1337.3L1521.3 1336.4L1522.1 1336.6L1523.1 1338.2L1524.1 1341.0L1527.1 1352.5L1528.3 1356.6L1529.3 1358.7L1529.8 1359.3L1530.3 1359.4L1530.8 1359.1L1531.3 1358.6L1532.3 1356.6L1533.3 1353.6L1534.6 1348.7L1536.6 1338.8L1541.6 1310.7L1543.8 1300.4L1545.6 1295.0L1546.6 1293.4L1547.3 1292.9L1548.1 1293.0L1549.1 1293.8L1550.8 1296.2L1553.6 1302.2L1554.8 1305.3L1555.3 1307.1L1556.3 1312.2L1557.3 1318.9L1560.6 1344.9L1562.1 1355.5L1563.3 1361.8L1564.1 1364.0L1564.6 1364.7L1565.1 1364.7L1565.6 1364.2L1566.8 1360.9L1568.1 1355.7L1572.1 1336.0L1573.3 1332.2L1573.8 1331.4L1574.3 1331.0L1574.8 1331.2L1575.3 1331.7L1576.3 1334.0L1580.6 1349.6L1581.6 1352.2L1582.3 1353.3L1582.8 1353.5L1583.3 1353.3L1584.3 1352.1L1585.6 1349.4L1588.3 1342.3L1589.3 1340.5L1590.1 1339.7L1590.6 1339.6L1591.1 1339.8L1592.1 1340.8L1593.3 1343.0L1597.1 1351.1L1598.1 1352.5L1599.1 1353.0L1599.6 1352.9L1600.1 1352.4L1601.1 1350.9L1605.1 1342.0L1606.1 1340.9L1606.8 1340.7L1607.8 1341.8L1608.8 1344.0L1613.3 1358.1L1614.3 1359.9L1614.8 1360.4L1615.3 1360.5L1615.8 1360.2L1616.3 1359.5L1617.3 1357.2L1618.3 1353.6L1619.6 1347.8L1621.6 1336.1L1626.1 1306.5L1628.3 1294.2L1629.3 1290.0L1630.3 1287.0L1631.3 1285.3L1632.1 1284.9L1633.1 1285.2L1634.1 1286.1L1636.1 1289.2L1638.6 1295.0L1641.3 1303.0L1642.1 1306.8L1643.1 1313.6L1647.6 1351.5L1648.8 1358.2L1649.6 1360.2L1650.1 1360.5L1650.6 1360.2L1651.1 1359.4L1652.1 1356.9L1655.6 1342.8L1656.8 1338.5L1657.8 1336.4L1658.6 1335.8L1659.1 1336.0L1659.6 1336.5L1660.6 1338.4L1661.8 1342.0L1665.3 1353.7L1666.3 1356.0L1667.3 1357.2L1668.1 1357.2L1669.1 1356.3L1670.3 1354.0L1673.3 1347.5L1674.3 1346.0L1675.3 1345.5L1676.1 1345.8L1677.1 1347.0L1680.3 1353.5L1681.3 1355.1L1682.3 1356.1L1682.8 1356.2L1683.3 1356.0L1684.1 1355.1L1685.1 1353.2L1689.1 1342.4L1690.1 1340.9L1690.8 1340.4L1691.3 1340.5L1691.8 1340.9L1693.1 1343.1L1696.6 1352.8L1698.1 1356.1L1698.8 1357.0L1699.3 1357.3L1699.8 1357.2L1700.3 1356.8L1701.1 1355.6L1702.1 1352.9L1704.1 1344.7L1706.1 1333.8L1710.3 1308.1L1712.6 1296.8L1713.6 1293.0L1714.6 1290.1L1715.6 1288.5L1716.3 1288.1L1717.1 1288.4L1717.8 1289.3L1719.6 1292.9L1721.3 1298.3L1725.1 1311.4L1726.8 1319.8L1730.6 1342.6L1732.1 1350.7L1733.6 1356.5L1734.3 1358.2L1735.1 1358.9L1735.8 1358.6L1736.8 1357.3L1740.8 1347.5L1741.8 1345.7L1742.6 1345.1L1743.6 1345.2L1744.8 1346.2L1746.1 1348.0L1749.6 1353.8L1750.8 1355.2L1751.8 1355.7L1752.8 1355.4L1753.8 1354.6L1757.8 1348.7L1758.8 1347.7L1759.6 1347.2L1760.3 1347.1L1761.3 1347.4L1765.6 1350.1L1766.6 1350.3L1767.1 1350.1L1767.8 1349.3L1768.8 1347.4L1772.8 1337.6L1773.8 1336.2L1774.6 1335.8L1775.6 1336.3L1776.8 1338.3L1780.6 1348.0L1782.1 1351.1L1782.8 1352.1L1783.3 1352.4L1783.8 1352.5L1784.6 1352.0L1785.6 1350.5L1786.6 1348.0L1788.6 1340.7L1790.6 1331.2L1794.8 1309.1L1797.1 1299.1L1798.1 1295.7L1799.1 1293.1L1800.1 1291.4L1800.6 1291.0L1801.1 1290.8L1801.6 1290.9L1802.1 1291.3L1803.1 1292.9L1804.1 1295.4L1805.3 1299.7L1807.6 1309.6L1812.6 1335.9L1814.6 1345.3L1816.8 1353.3L1817.8 1355.6L1818.8 1357.0L1819.6 1357.3L1820.1 1357.2L1821.3 1355.8L1822.6 1353.3L1825.8 1345.5L1826.8 1343.8L1827.8 1342.9L1828.8 1342.9L1829.8 1343.4L1834.1 1347.2L1835.6 1348.1L1836.6 1348.2L1837.8 1347.9L1842.3 1345.5L1844.3 1345.0L1845.1 1345.2L1845.8 1345.6L1849.3 1348.7L1850.1 1349.1L1850.8 1349.2L1851.8 1348.7L1852.8 1347.6L1857.1 1341.2L1858.1 1340.3L1858.8 1340.1L1859.3 1340.2L1860.1 1340.8L1861.3 1342.7L1865.3 1351.9L1866.8 1354.7L1868.1 1356.0L1868.6 1356.2L1869.1 1356.1L1870.1 1354.9L1871.1 1352.5L1872.1 1349.1L1873.3 1343.6L1875.3 1332.8L1880.1 1304.1L1882.3 1292.9L1883.3 1289.2L1884.3 1286.4L1885.3 1284.7L1886.1 1284.3L1886.6 1284.5L1887.1 1284.9L1888.1 1286.7L1889.1 1289.5L1890.1 1293.1L1892.6 1305.2L1897.3 1332.7L1899.3 1343.2L1901.6 1352.2L1902.6 1354.8L1903.6 1356.4L1904.1 1356.7L1904.6 1356.8L1905.1 1356.4L1905.8 1355.4L1907.1 1352.3L1910.6 1341.8L1911.6 1339.8L1912.1 1339.3L1912.6 1339.1L1913.6 1339.5L1914.6 1340.7L1918.6 1348.4L1919.6 1349.9L1920.3 1350.6L1921.3 1350.9L1922.3 1350.5L1923.3 1349.7L1926.8 1346.1L1927.8 1345.6L1928.8 1345.6L1929.6 1346.1L1930.6 1347.3L1934.8 1354.5L1935.8 1355.5L1936.6 1355.8L1937.1 1355.7L1937.6 1355.2L1938.6 1353.5L1942.6 1343.1L1943.6 1341.8L1944.1 1341.6L1944.6 1341.8L1945.6 1343.0L1946.6 1345.1L1949.8 1354.7L1951.1 1357.7L1952.1 1359.3L1952.6 1359.6L1953.1 1359.7L1953.6 1359.3L1954.1 1358.6L1955.1 1356.2L1956.1 1352.5L1957.3 1346.5L1959.3 1334.5L1964.3 1300.5L1966.6 1287.9L1967.6 1283.7L1968.6 1280.6L1969.6 1278.8L1970.3 1278.4L1970.8 1278.6L1971.3 1279.1L1972.3 1281.2L1973.3 1284.3L1974.3 1288.4L1976.8 1301.8L1981.8 1334.1L1984.1 1347.1L1985.3 1352.8L1986.3 1356.5L1987.6 1359.5L1988.6 1360.6L1989.1 1360.7L1989.6 1360.3L1990.6 1358.4L1991.6 1355.5L1994.8 1344.1L1995.8 1341.7L1996.3 1341.0L1996.8 1340.6L1997.3 1340.7L1997.8 1341.1L1998.8 1342.6L2003.1 1353.6L2004.1 1355.4L2004.8 1356.2L2005.3 1356.3L2005.8 1356.1L2006.8 1354.9L2007.8 1352.9L2011.1 1344.9L2012.1 1343.2L2012.6 1342.8L2013.1 1342.6L2014.1 1343.1L2015.1 1344.4L2018.6 1351.9L2019.8 1354.1L2020.8 1355.1L2021.3 1355.3L2021.8 1355.1L2022.6 1354.0L2023.6 1351.4L2027.6 1336.7L2028.6 1334.4L2029.3 1333.7L2029.8 1333.8L2030.3 1334.4L2031.6 1337.5L2035.1 1351.8L2036.3 1356.0L2037.1 1357.6L2037.6 1358.1L2038.1 1358.2L2038.6 1357.8L2039.3 1356.6L2040.3 1353.8L2042.3 1344.9L2044.3 1333.0L2048.8 1303.1L2050.8 1292.1L2052.6 1285.3L2053.6 1283.1L2054.3 1282.4L2054.8 1282.3L2055.3 1282.7L2056.3 1284.4L2057.3 1287.3L2058.6 1292.3L2061.1 1305.9L2065.8 1337.0L2067.8 1348.8L2070.1 1358.9L2071.1 1361.9L2072.1 1363.6L2072.8 1364.1L2073.3 1363.9L2073.8 1363.3L2074.6 1361.6L2075.8 1357.4L2079.3 1343.1L2080.3 1340.2L2081.1 1338.9L2081.6 1338.6L2082.1 1338.7L2082.6 1339.2L2083.3 1340.4L2084.6 1343.6L2088.1 1353.9L2089.1 1355.7L2089.6 1356.2L2090.1 1356.3L2090.8 1356.0L2091.8 1355.0L2093.6 1351.5L2095.6 1345.0L2097.6 1336.2" fill="none" stroke="#0000ff" stroke-width="2.80" stroke-linejoin="round" stroke-linecap="round"/>
<rect x="140.0" y="59.7" width="844.0" height="220.9" fill="none" stroke="#333333" stroke-width="2.40"/>
<path d="M308.8 280.6V272.6M308.8 59.7V67.7M477.6 280.6V272.6M477.6 59.7V67.7M646.4 280.6V272.6M646.4 59.7V67.7M815.2 280.6V272.6M815.2 59.7V67.7M140.0 243.8H148.0M984.0 243.8H976.0M140.0 170.2H148.0M984.0 170.2H976.0M140.0 96.5H148.0M984.0 96.5H976.0" stroke="#333333" stroke-width="2.40" fill="none"/>
<rect x="1252.8" y="59.7" width="844.8" height="220.9" fill="none" stroke="#333333" stroke-width="2.40"/>
<path d="M1421.8 280.6V272.6M1421.8 59.7V67.7M1590.7 280.6V272.6M1590.7 59.7V67.7M1759.7 280.6V272.6M1759.7 59.7V67.7M1928.6 280.6V272.6M1928.6 59.7V67.7M1252.8 258.5H1260.8M2097.6 258.5H2089.6M1252.8 170.2H1260.8M2097.6 170.2H2089.6M1252.8 81.8H1260.8M2097.6 81.8H2089.6" stroke="#333333" stroke-width="2.40" fill="none"/>
<rect x="140.0" y="452.7" width="844.0" height="220.1" fill="none" stroke="#333333" stroke-width="2.40"/>
<path d="M308.8 672.8V664.8M308.8 452.7V460.7M477.6 672.8V664.8M477.6 452.7V460.7M646.4 672.8V664.8M646.4 452.7V460.7M815.2 672.8V664.8M815.2 452.7V460.7M140.0 636.1H148.0M984.0 636.1H976.0M140.0 562.8H148.0M984.0 562.8H976.0M140.0 489.4H148.0M984.0 489.4H976.0" stroke="#333333" stroke-width="2.40" fill="none"/>
<rect x="1252.8" y="452.7" width="844.8" height="220.1" fill="none" stroke="#333333" stroke-width="2.40"/>
<path d="M1421.8 672.8V664.8M1421.8 452.7V460.7M1590.7 672.8V664.8M1590.7 452.7V460.7M1759.7 672.8V664.8M1759.7 452.7V460.7M1928.6 672.8V664.8M1928.6 452.7V460.7M1252.8 650.8H1260.8M2097.6 650.8H2089.6M1252.8 562.8H1260.8M2097.6 562.8H2089.6M1252.8 474.7H1260.8M2097.6 474.7H2089.6" stroke="#333333" stroke-width="2.40" fill="none"/>
<rect x="140.0" y="845.9" width="844.0" height="220.0" fill="none" stroke="#333333" stroke-width="2.40"/>
<path d="M308.8 1065.9V1057.9M308.8 845.9V853.9M477.6 1065.9V1057.9M477.6 845.9V853.9M646.4 1065.9V1057.9M646.4 845.9V853.9M815.2 1065.9V1057.9M815.2 845.9V853.9M140.0 1029.2H148.0M984.0 1029.2H976.0M140.0 955.9H148.0M984.0 955.9H976.0M140.0 882.6H148.0M984.0 882.6H976.0" stroke="#333333" stroke-width="2.40" fill="none"/>
<rect x="1252.8" y="845.9" width="844.8" height="220.0" fill="none" stroke="#333333" stroke-width="2.40"/>
<path d="M1421.8 1065.9V1057.9M1421.8 845.9V853.9M1590.7 1065.9V1057.9M1590.7 845.9V853.9M1759.7 1065.9V1057.9M1759.7 845.9V853.9M1928.6 1065.9V1057.9M1928.6 845.9V853.9M1252.8 1043.9H1260.8M2097.6 1043.9H2089.6M1252.8 955.9H1260.8M2097.6 955.9H2089.6M1252.8 867.9H1260.8M2097.6 867.9H2089.6" stroke="#333333" stroke-width="2.40" fill="none"/>
<rect x="140.0" y="1238.1" width="844.0" height="220.7" fill="none" stroke="#333333" stroke-width="2.40"/>
<path d="M308.8 1458.8V1450.8M308.8 1238.1V1246.1M477.6 1458.8V1450.8M477.6 1238.1V1246.1M646.4 1458.8V1450.8M646.4 1238.1V1246.1M815.2 1458.8V1450.8M815.2 1238.1V1246.1M140.0 1422.0H148.0M984.0 1422.0H976.0M140.0 1348.4H148.0M984.0 1348.4H976.0M140.0 1274.9H148.0M984.0 1274.9H976.0" stroke="#333333" stroke-width="2.40" fill="none"/>
<rect x="1252.8" y="1238.1" width="844.8" height="220.7" fill="none" stroke="#333333" stroke-width="2.40"/>
<path d="M1421.8 1458.8V1450.8M1421.8 1238.1V1246.1M1590.7 1458.8V1450.8M1590.7 1238.1V1246.1M1759.7 1458.8V1450.8M1759.7 1238.1V1246.1M1928.6 1458.8V1450.8M1928.6 1238.1V1246.1M1252.8 1436.7H1260.8M2097.6 1436.7H2089.6M1252.8 1348.4H1260.8M2097.6 1348.4H2089.6M1252.8 1260.2H1260.8M2097.6 1260.2H2089.6" stroke="#333333" stroke-width="2.40" fill="none"/>
</g>
<g filter="url(#bt)" font-family="Liberation Sans, Arial, Helvetica, sans-serif" font-size="45.8" fill="#282828">
<text transform="translate(140.0 337.4) scale(1.050 1)" text-anchor="middle">0</text>
<text transform="translate(308.8 337.4) scale(1.050 1)" text-anchor="middle">0.1</text>
<text transform="translate(477.6 337.4) scale(1.050 1)" text-anchor="middle">0.2</text>
<text transform="translate(646.4 337.4) scale(1.050 1)" text-anchor="middle">0.3</text>
<text transform="translate(815.2 337.4) scale(1.050 1)" text-anchor="middle">0.4</text>
<text transform="translate(984.0 337.4) scale(1.050 1)" text-anchor="middle">0.5</text>
<text transform="translate(128.7 262.0) scale(1.050 1)" text-anchor="end"><tspan dy="3.3" fill="#4a4a4a">−</tspan><tspan dy="-3.3">2</tspan></text>
<text transform="translate(128.7 187.0) scale(1.050 1)" text-anchor="end">0</text>
<text transform="translate(128.7 112.7) scale(1.050 1)" text-anchor="end">2</text>
<text transform="translate(563.3 398.8) scale(1.065 1)" text-anchor="middle" font-size="50.5">Time(s)</text>
<text transform="translate(66.5 168.7) scale(1.065 1) rotate(-90)" text-anchor="middle" font-size="50.5">Amplitude(V)</text>
<text transform="translate(1252.8 337.4) scale(1.050 1)" text-anchor="middle">0</text>
<text transform="translate(1421.8 337.4) scale(1.050 1)" text-anchor="middle">0.1</text>
<text transform="translate(1590.7 337.4) scale(1.050 1)" text-anchor="middle">0.2</text>
<text transform="translate(1759.7 337.4) scale(1.050 1)" text-anchor="middle">0.3</text>
<text transform="translate(1928.6 337.4) scale(1.050 1)" text-anchor="middle">0.4</text>
<text transform="translate(2097.6 337.4) scale(1.050 1)" text-anchor="middle">0.5</text>
<text transform="translate(1241.5 276.7) scale(1.050 1)" text-anchor="end"><tspan dy="3.3" fill="#4a4a4a">−</tspan><tspan dy="-3.3">2</tspan></text>
<text transform="translate(1241.5 187.0) scale(1.050 1)" text-anchor="end">0</text>
<text transform="translate(1241.5 98.0) scale(1.050 1)" text-anchor="end">2</text>
<text transform="translate(1676.5 398.8) scale(1.065 1)" text-anchor="middle" font-size="50.5">Time(s)</text>
<text transform="translate(1179.3 168.7) scale(1.065 1) rotate(-90)" text-anchor="middle" font-size="50.5">Amplitude(V)</text>
<text transform="translate(140.0 729.6) scale(1.050 1)" text-anchor="middle">0</text>
<text transform="translate(308.8 729.6) scale(1.050 1)" text-anchor="middle">0.1</text>
<text transform="translate(477.6 729.6) scale(1.050 1)" text-anchor="middle">0.2</text>
<text transform="translate(646.4 729.6) scale(1.050 1)" text-anchor="middle">0.3</text>
<text transform="translate(815.2 729.6) scale(1.050 1)" text-anchor="middle">0.4</text>
<text transform="translate(984.0 729.6) scale(1.050 1)" text-anchor="middle">0.5</text>
<text transform="translate(128.7 654.3) scale(1.050 1)" text-anchor="end"><tspan dy="3.3" fill="#4a4a4a">−</tspan><tspan dy="-3.3">2</tspan></text>
<text transform="translate(128.7 579.7) scale(1.050 1)" text-anchor="end">0</text>
<text transform="translate(128.7 505.6) scale(1.050 1)" text-anchor="end">2</text>
<text transform="translate(563.3 791.0) scale(1.065 1)" text-anchor="middle" font-size="50.5">Time(s)</text>
<text transform="translate(66.5 561.2) scale(1.065 1) rotate(-90)" text-anchor="middle" font-size="50.5">Amplitude(V)</text>
<text transform="translate(1252.8 729.6) scale(1.050 1)" text-anchor="middle">0</text>
<text transform="translate(1421.8 729.6) scale(1.050 1)" text-anchor="middle">0.1</text>
<text transform="translate(1590.7 729.6) scale(1.050 1)" text-anchor="middle">0.2</text>
<text transform="translate(1759.7 729.6) scale(1.050 1)" text-anchor="middle">0.3</text>
<text transform="translate(1928.6 729.6) scale(1.050 1)" text-anchor="middle">0.4</text>
<text transform="translate(2097.6 729.6) scale(1.050 1)" text-anchor="middle">0.5</text>
<text transform="translate(1241.5 669.0) scale(1.050 1)" text-anchor="end"><tspan dy="3.3" fill="#4a4a4a">−</tspan><tspan dy="-3.3">2</tspan></text>
<text transform="translate(1241.5 579.7) scale(1.050 1)" text-anchor="end">0</text>
<text transform="translate(1241.5 490.9) scale(1.050 1)" text-anchor="end">2</text>
<text transform="translate(1676.5 791.0) scale(1.065 1)" text-anchor="middle" font-size="50.5">Time(s)</text>
<text transform="translate(1179.3 561.2) scale(1.065 1) rotate(-90)" text-anchor="middle" font-size="50.5">Amplitude(V)</text>
<text transform="translate(140.0 1122.7) scale(1.050 1)" text-anchor="middle">0</text>
<text transform="translate(308.8 1122.7) scale(1.050 1)" text-anchor="middle">0.1</text>
<text transform="translate(477.6 1122.7) scale(1.050 1)" text-anchor="middle">0.2</text>
<text transform="translate(646.4 1122.7) scale(1.050 1)" text-anchor="middle">0.3</text>
<text transform="translate(815.2 1122.7) scale(1.050 1)" text-anchor="middle">0.4</text>
<text transform="translate(984.0 1122.7) scale(1.050 1)" text-anchor="middle">0.5</text>
<text transform="translate(128.7 1047.4) scale(1.050 1)" text-anchor="end"><tspan dy="3.3" fill="#4a4a4a">−</tspan><tspan dy="-3.3">2</tspan></text>
<text transform="translate(128.7 972.8) scale(1.050 1)" text-anchor="end">0</text>
<text transform="translate(128.7 898.8) scale(1.050 1)" text-anchor="end">2</text>
<text transform="translate(563.3 1184.1) scale(1.065 1)" text-anchor="middle" font-size="50.5">Time(s)</text>
<text transform="translate(66.5 954.4) scale(1.065 1) rotate(-90)" text-anchor="middle" font-size="50.5">Amplitude(V)</text>
<text transform="translate(1252.8 1122.7) scale(1.050 1)" text-anchor="middle">0</text>
<text transform="translate(1421.8 1122.7) scale(1.050 1)" text-anchor="middle">0.1</text>
<text transform="translate(1590.7 1122.7) scale(1.050 1)" text-anchor="middle">0.2</text>
<text transform="translate(1759.7 1122.7) scale(1.050 1)" text-anchor="middle">0.3</text>
<text transform="translate(1928.6 1122.7) scale(1.050 1)" text-anchor="middle">0.4</text>
<text transform="translate(2097.6 1122.7) scale(1.050 1)" text-anchor="middle">0.5</text>
<text transform="translate(1241.5 1062.1) scale(1.050 1)" text-anchor="end"><tspan dy="3.3" fill="#4a4a4a">−</tspan><tspan dy="-3.3">2</tspan></text>
<text transform="translate(1241.5 972.8) scale(1.050 1)" text-anchor="end">0</text>
<text transform="translate(1241.5 884.1) scale(1.050 1)" text-anchor="end">2</text>
<text transform="translate(1676.5 1184.1) scale(1.065 1)" text-anchor="middle" font-size="50.5">Time(s)</text>
<text transform="translate(1179.3 954.4) scale(1.065 1) rotate(-90)" text-anchor="middle" font-size="50.5">Amplitude(V)</text>
<text transform="translate(140.0 1515.6) scale(1.050 1)" text-anchor="middle">0</text>
<text transform="translate(308.8 1515.6) scale(1.050 1)" text-anchor="middle">0.1</text>
<text transform="translate(477.6 1515.6) scale(1.050 1)" text-anchor="middle">0.2</text>
<text transform="translate(646.4 1515.6) scale(1.050 1)" text-anchor="middle">0.3</text>
<text transform="translate(815.2 1515.6) scale(1.050 1)" text-anchor="middle">0.4</text>
<text transform="translate(984.0 1515.6) scale(1.050 1)" text-anchor="middle">0.5</text>
<text transform="translate(128.7 1440.2) scale(1.050 1)" text-anchor="end"><tspan dy="3.3" fill="#4a4a4a">−</tspan><tspan dy="-3.3">2</tspan></text>
<text transform="translate(128.7 1365.3) scale(1.050 1)" text-anchor="end">0</text>
<text transform="translate(128.7 1291.1) scale(1.050 1)" text-anchor="end">2</text>
<text transform="translate(563.3 1577.0) scale(1.065 1)" text-anchor="middle" font-size="50.5">Time(s)</text>
<text transform="translate(66.5 1346.9) scale(1.065 1) rotate(-90)" text-anchor="middle" font-size="50.5">Amplitude(V)</text>
<text transform="translate(1252.8 1515.6) scale(1.050 1)" text-anchor="middle">0</text>
<text transform="translate(1421.8 1515.6) scale(1.050 1)" text-anchor="middle">0.1</text>
<text transform="translate(1590.7 1515.6) scale(1.050 1)" text-anchor="middle">0.2</text>
<text transform="translate(1759.7 1515.6) scale(1.050 1)" text-anchor="middle">0.3</text>
<text transform="translate(1928.6 1515.6) scale(1.050 1)" text-anchor="middle">0.4</text>
<text transform="translate(2097.6 1515.6) scale(1.050 1)" text-anchor="middle">0.5</text>
<text transform="translate(1241.5 1454.9) scale(1.050 1)" text-anchor="end"><tspan dy="3.3" fill="#4a4a4a">−</tspan><tspan dy="-3.3">2</tspan></text>
<text transform="translate(1241.5 1365.3) scale(1.050 1)" text-anchor="end">0</text>
<text transform="translate(1241.5 1276.4) scale(1.050 1)" text-anchor="end">2</text>
<text transform="translate(1676.5 1577.0) scale(1.065 1)" text-anchor="middle" font-size="50.5">Time(s)</text>
<text transform="translate(1179.3 1346.9) scale(1.065 1) rotate(-90)" text-anchor="middle" font-size="50.5">Amplitude(V)</text>
<text transform="translate(515.1 1650.8) scale(1.065 1)" text-anchor="middle" font-family="Liberation Serif, Times New Roman, serif" font-size="91.0" fill="#000">(a)</text>
<text transform="translate(1637.3 1654.3) scale(1.065 1)" text-anchor="middle" font-family="Liberation Serif, Times New Roman, serif" font-size="91.0" fill="#000">(b)</text>
</g>
</svg>
</body></html>
